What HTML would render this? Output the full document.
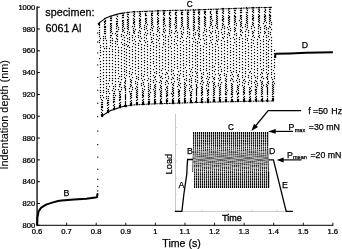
<!DOCTYPE html>
<html><head><meta charset="utf-8"><title>Indentation depth vs time</title>
<style>
html,body{margin:0;padding:0;background:#fff;}
body{width:342px;height:249px;overflow:hidden;}
svg text{font-family:"Liberation Sans",sans-serif;fill:#000;stroke:#000;stroke-width:0.25px;}
.tk{font-size:6.8px;}
.ax{font-size:10.4px;}
.sp{font-size:10.8px;}
.lb{font-size:8.8px;}
.an{font-size:8.8px;}
.sub{font-size:5.6px;}
</style></head><body>
<svg width="342" height="249" viewBox="0 0 342 249" style="display:block">
<rect width="342" height="249" fill="#fff"/>
<path d="M98.5 23.5h0M99.5 23.5h0M99.5 24.5h0M98.5 24.5h0M99.5 25.5h0M99.5 27.5h0M99.5 30.5h0M99.5 32.5h0M99.5 34.5h0M99.5 36.5h0M100.5 38.5h0M99.5 40.5h0M99.5 42.5h0M100.5 45.5h0M100.5 47.5h0M100.5 50.5h0M100.5 52.5h0M100.5 55.5h0M99.5 58.5h0M100.5 61.5h0M100.5 64.5h0M100.5 67.5h0M100.5 70.5h0M100.5 73.5h0M100.5 76.5h0M100.5 79.5h0M100.5 81.5h0M100.5 84.5h0M100.5 87.5h0M100.5 90.5h0M100.5 92.5h0M100.5 95.5h0M100.5 97.5h0M101.5 99.5h0M101.5 102.5h0M101.5 104.5h0M101.5 106.5h0M101.5 107.5h0M101.5 109.5h0M101.5 112.5h0M101.5 114.5h0M101.5 115.5h0M102.5 116.5h0M102.5 115.5h0M102.5 114.5h0M102.5 113.5h0M102.5 110.5h0M102.5 107.5h0M102.5 106.5h0M102.5 104.5h0M102.5 102.5h0M102.5 100.5h0M103.5 97.5h0M102.5 95.5h0M103.5 92.5h0M103.5 90.5h0M103.5 87.5h0M103.5 84.5h0M103.5 81.5h0M103.5 78.5h0M103.5 75.5h0M103.5 72.5h0M103.5 69.5h0M103.5 66.5h0M103.5 63.5h0M103.5 60.5h0M103.5 57.5h0M103.5 54.5h0M103.5 51.5h0M104.5 48.5h0M103.5 46.5h0M103.5 43.5h0M103.5 40.5h0M103.5 38.5h0M103.5 36.5h0M104.5 33.5h0M104.5 31.5h0M104.5 29.5h0M104.5 27.5h0M104.5 26.5h0M104.5 24.5h0M104.5 22.5h0M104.5 21.5h0M105.5 20.5h0M105.5 19.5h0M104.5 18.5h0M105.5 21.5h0M105.5 23.5h0M105.5 26.5h0M105.5 27.5h0M105.5 29.5h0M105.5 31.5h0M105.5 33.5h0M105.5 36.5h0M105.5 38.5h0M106.5 40.5h0M106.5 43.5h0M106.5 46.5h0M106.5 48.5h0M106.5 51.5h0M106.5 54.5h0M106.5 57.5h0M106.5 60.5h0M106.5 63.5h0M106.5 66.5h0M106.5 69.5h0M106.5 72.5h0M106.5 75.5h0M106.5 77.5h0M106.5 80.5h0M106.5 83.5h0M106.5 86.5h0M106.5 88.5h0M106.5 91.5h0M106.5 93.5h0M106.5 96.5h0M106.5 98.5h0M107.5 100.5h0M107.5 102.5h0M107.5 103.5h0M107.5 105.5h0M107.5 108.5h0M107.5 110.5h0M107.5 111.5h0M107.5 112.5h0M108.5 112.5h0M108.5 111.5h0M108.5 110.5h0M108.5 109.5h0M108.5 107.5h0M108.5 104.5h0M108.5 102.5h0M108.5 100.5h0M108.5 98.5h0M108.5 96.5h0M109.5 93.5h0M108.5 91.5h0M108.5 89.5h0M109.5 86.5h0M108.5 83.5h0M109.5 80.5h0M109.5 78.5h0M109.5 75.5h0M109.5 72.5h0M109.5 69.5h0M109.5 66.5h0M109.5 63.5h0M109.5 60.5h0M109.5 57.5h0M109.5 54.5h0M109.5 51.5h0M109.5 48.5h0M110.5 45.5h0M110.5 42.5h0M110.5 40.5h0M110.5 37.5h0M110.5 35.5h0M110.5 32.5h0M110.5 30.5h0M110.5 28.5h0M110.5 26.5h0M110.5 24.5h0M110.5 23.5h0M110.5 20.5h0M110.5 18.5h0M110.5 17.5h0M111.5 16.5h0M110.5 16.5h0M111.5 17.5h0M111.5 18.5h0M111.5 20.5h0M111.5 23.5h0M111.5 25.5h0M111.5 27.5h0M111.5 29.5h0M111.5 31.5h0M112.5 33.5h0M111.5 35.5h0M112.5 38.5h0M112.5 40.5h0M112.5 43.5h0M112.5 46.5h0M112.5 49.5h0M112.5 51.5h0M112.5 54.5h0M112.5 57.5h0M112.5 60.5h0M112.5 63.5h0M112.5 66.5h0M112.5 69.5h0M112.5 72.5h0M112.5 75.5h0M112.5 78.5h0M112.5 80.5h0M112.5 83.5h0M113.5 86.5h0M113.5 88.5h0M112.5 90.5h0M113.5 93.5h0M113.5 95.5h0M113.5 97.5h0M113.5 99.5h0M113.5 101.5h0M113.5 102.5h0M113.5 105.5h0M114.5 107.5h0M113.5 108.5h0M114.5 109.5h0M113.5 109.5h0M114.5 108.5h0M114.5 106.5h0M114.5 104.5h0M114.5 101.5h0M114.5 99.5h0M114.5 97.5h0M115.5 95.5h0M114.5 93.5h0M114.5 91.5h0M115.5 89.5h0M115.5 86.5h0M115.5 84.5h0M115.5 81.5h0M115.5 78.5h0M115.5 75.5h0M115.5 72.5h0M115.5 70.5h0M115.5 67.5h0M115.5 64.5h0M115.5 61.5h0M115.5 58.5h0M115.5 55.5h0M115.5 52.5h0M115.5 49.5h0M115.5 46.5h0M115.5 43.5h0M115.5 41.5h0M116.5 38.5h0M116.5 35.5h0M115.5 33.5h0M116.5 31.5h0M116.5 28.5h0M116.5 26.5h0M116.5 24.5h0M116.5 23.5h0M116.5 21.5h0M116.5 18.5h0M117.5 16.5h0M116.5 15.5h0M116.5 14.5h0M117.5 14.5h0M117.5 15.5h0M117.5 19.5h0M117.5 21.5h0M117.5 23.5h0M117.5 25.5h0M118.5 27.5h0M118.5 29.5h0M117.5 31.5h0M117.5 34.5h0M117.5 36.5h0M117.5 39.5h0M117.5 41.5h0M117.5 44.5h0M118.5 47.5h0M118.5 50.5h0M118.5 52.5h0M118.5 55.5h0M118.5 58.5h0M118.5 61.5h0M118.5 64.5h0M118.5 67.5h0M118.5 70.5h0M118.5 73.5h0M119.5 76.5h0M118.5 78.5h0M118.5 81.5h0M119.5 84.5h0M119.5 86.5h0M118.5 89.5h0M119.5 91.5h0M119.5 93.5h0M119.5 95.5h0M119.5 97.5h0M119.5 99.5h0M119.5 100.5h0M119.5 103.5h0M119.5 105.5h0M119.5 106.5h0M119.5 107.5h0M120.5 107.5h0M120.5 106.5h0M120.5 105.5h0M120.5 104.5h0M120.5 102.5h0M120.5 99.5h0M120.5 97.5h0M120.5 96.5h0M120.5 94.5h0M120.5 91.5h0M121.5 89.5h0M121.5 87.5h0M120.5 84.5h0M120.5 82.5h0M121.5 79.5h0M121.5 76.5h0M121.5 74.5h0M121.5 71.5h0M121.5 68.5h0M121.5 65.5h0M121.5 62.5h0M121.5 59.5h0M121.5 56.5h0M121.5 53.5h0M121.5 50.5h0M121.5 47.5h0M122.5 44.5h0M121.5 42.5h0M122.5 39.5h0M121.5 36.5h0M121.5 34.5h0M122.5 31.5h0M122.5 29.5h0M122.5 27.5h0M122.5 25.5h0M122.5 23.5h0M122.5 21.5h0M122.5 20.5h0M122.5 17.5h0M122.5 15.5h0M122.5 14.5h0M122.5 13.5h0M123.5 13.5h0M123.5 14.5h0M123.5 15.5h0M123.5 17.5h0M123.5 20.5h0M123.5 22.5h0M123.5 24.5h0M123.5 26.5h0M124.5 28.5h0M123.5 30.5h0M124.5 32.5h0M123.5 35.5h0M124.5 37.5h0M124.5 40.5h0M124.5 43.5h0M124.5 45.5h0M124.5 48.5h0M124.5 51.5h0M124.5 54.5h0M124.5 57.5h0M124.5 60.5h0M124.5 63.5h0M124.5 66.5h0M124.5 69.5h0M124.5 71.5h0M124.5 74.5h0M124.5 77.5h0M125.5 80.5h0M124.5 82.5h0M124.5 85.5h0M124.5 87.5h0M125.5 89.5h0M125.5 92.5h0M125.5 94.5h0M125.5 95.5h0M125.5 97.5h0M125.5 99.5h0M125.5 102.5h0M125.5 104.5h0M125.5 105.5h0M126.5 105.5h0M126.5 106.5h0M125.5 106.5h0M124.5 105.5h0M125.5 103.5h0M125.5 101.5h0M125.5 98.5h0M125.5 96.5h0M125.5 90.5h0M125.5 88.5h0M125.5 86.5h0M125.5 83.5h0M125.5 81.5h0M125.5 78.5h0M126.5 75.5h0M126.5 72.5h0M126.5 70.5h0M126.5 67.5h0M126.5 64.5h0M126.5 61.5h0M126.5 58.5h0M126.5 55.5h0M126.5 52.5h0M126.5 49.5h0M127.5 46.5h0M126.5 44.5h0M127.5 41.5h0M127.5 38.5h0M126.5 35.5h0M127.5 33.5h0M127.5 31.5h0M127.5 28.5h0M127.5 26.5h0M127.5 24.5h0M127.5 22.5h0M127.5 20.5h0M127.5 19.5h0M127.5 16.5h0M127.5 14.5h0M128.5 13.5h0M127.5 13.5h0M128.5 12.5h0M127.5 12.5h0M128.5 14.5h0M128.5 17.5h0M128.5 19.5h0M128.5 21.5h0M128.5 23.5h0M128.5 25.5h0M128.5 27.5h0M128.5 29.5h0M129.5 32.5h0M129.5 34.5h0M129.5 37.5h0M129.5 39.5h0M129.5 42.5h0M128.5 45.5h0M129.5 47.5h0M129.5 50.5h0M129.5 53.5h0M129.5 56.5h0M129.5 59.5h0M129.5 62.5h0M129.5 65.5h0M130.5 68.5h0M129.5 71.5h0M129.5 73.5h0M129.5 76.5h0M130.5 79.5h0M130.5 81.5h0M130.5 84.5h0M130.5 86.5h0M129.5 88.5h0M129.5 91.5h0M130.5 93.5h0M130.5 94.5h0M130.5 96.5h0M130.5 98.5h0M130.5 101.5h0M130.5 103.5h0M130.5 104.5h0M131.5 105.5h0M130.5 105.5h0M131.5 104.5h0M131.5 103.5h0M131.5 102.5h0M131.5 100.5h0M131.5 97.5h0M131.5 95.5h0M131.5 93.5h0M131.5 91.5h0M132.5 89.5h0M132.5 87.5h0M131.5 85.5h0M131.5 82.5h0M131.5 80.5h0M132.5 77.5h0M131.5 74.5h0M132.5 72.5h0M132.5 69.5h0M132.5 66.5h0M132.5 63.5h0M132.5 60.5h0M132.5 57.5h0M132.5 54.5h0M132.5 51.5h0M132.5 49.5h0M132.5 46.5h0M133.5 43.5h0M132.5 40.5h0M132.5 37.5h0M132.5 35.5h0M133.5 32.5h0M133.5 30.5h0M133.5 28.5h0M132.5 26.5h0M133.5 23.5h0M133.5 22.5h0M133.5 20.5h0M133.5 18.5h0M133.5 15.5h0M133.5 13.5h0M134.5 12.5h0M134.5 11.5h0M133.5 11.5h0M134.5 13.5h0M134.5 14.5h0M134.5 16.5h0M134.5 19.5h0M134.5 21.5h0M134.5 22.5h0M134.5 24.5h0M134.5 26.5h0M135.5 29.5h0M134.5 31.5h0M134.5 33.5h0M135.5 36.5h0M134.5 39.5h0M135.5 41.5h0M135.5 44.5h0M135.5 47.5h0M135.5 50.5h0M135.5 53.5h0M135.5 56.5h0M135.5 58.5h0M135.5 61.5h0M135.5 64.5h0M135.5 67.5h0M135.5 70.5h0M135.5 73.5h0M136.5 76.5h0M136.5 78.5h0M135.5 81.5h0M135.5 83.5h0M136.5 86.5h0M135.5 88.5h0M136.5 90.5h0M136.5 92.5h0M136.5 94.5h0M136.5 96.5h0M136.5 97.5h0M136.5 100.5h0M136.5 102.5h0M136.5 103.5h0M136.5 104.5h0M137.5 104.5h0M137.5 103.5h0M137.5 102.5h0M137.5 99.5h0M137.5 97.5h0M137.5 95.5h0M137.5 93.5h0M137.5 91.5h0M137.5 89.5h0M137.5 87.5h0M137.5 84.5h0M137.5 82.5h0M138.5 79.5h0M138.5 77.5h0M138.5 74.5h0M138.5 71.5h0M138.5 68.5h0M138.5 66.5h0M138.5 63.5h0M138.5 60.5h0M138.5 57.5h0M138.5 54.5h0M138.5 51.5h0M138.5 48.5h0M138.5 45.5h0M138.5 43.5h0M139.5 40.5h0M138.5 37.5h0M138.5 35.5h0M138.5 32.5h0M139.5 30.5h0M139.5 27.5h0M139.5 25.5h0M139.5 23.5h0M139.5 21.5h0M139.5 20.5h0M139.5 18.5h0M139.5 15.5h0M139.5 13.5h0M139.5 12.5h0M139.5 11.5h0M140.5 11.5h0M140.5 12.5h0M140.5 13.5h0M140.5 14.5h0M140.5 16.5h0M140.5 19.5h0M140.5 20.5h0M140.5 22.5h0M140.5 24.5h0M140.5 26.5h0M141.5 28.5h0M140.5 31.5h0M140.5 33.5h0M140.5 36.5h0M141.5 38.5h0M140.5 41.5h0M141.5 44.5h0M141.5 47.5h0M141.5 49.5h0M141.5 52.5h0M141.5 55.5h0M141.5 58.5h0M141.5 61.5h0M141.5 64.5h0M141.5 67.5h0M141.5 70.5h0M141.5 73.5h0M141.5 75.5h0M141.5 78.5h0M142.5 80.5h0M141.5 83.5h0M141.5 85.5h0M142.5 88.5h0M142.5 90.5h0M142.5 92.5h0M142.5 94.5h0M142.5 95.5h0M142.5 97.5h0M142.5 100.5h0M142.5 102.5h0M142.5 103.5h0M142.5 104.5h0M143.5 104.5h0M143.5 103.5h0M143.5 102.5h0M143.5 101.5h0M143.5 99.5h0M143.5 96.5h0M143.5 95.5h0M143.5 93.5h0M143.5 91.5h0M144.5 89.5h0M144.5 86.5h0M143.5 84.5h0M143.5 82.5h0M144.5 79.5h0M143.5 76.5h0M144.5 74.5h0M144.5 71.5h0M144.5 68.5h0M144.5 65.5h0M144.5 62.5h0M144.5 60.5h0M144.5 57.5h0M144.5 54.5h0M144.5 51.5h0M144.5 48.5h0M144.5 45.5h0M145.5 42.5h0M144.5 40.5h0M144.5 37.5h0M144.5 34.5h0M145.5 32.5h0M144.5 29.5h0M144.5 27.5h0M144.5 25.5h0M145.5 23.5h0M145.5 21.5h0M145.5 19.5h0M145.5 18.5h0M145.5 15.5h0M145.5 14.5h0M145.5 13.5h0M145.5 12.5h0M146.5 11.5h0M145.5 11.5h0M146.5 12.5h0M146.5 15.5h0M146.5 18.5h0M146.5 20.5h0M146.5 22.5h0M147.5 24.5h0M146.5 26.5h0M146.5 28.5h0M147.5 30.5h0M147.5 33.5h0M146.5 35.5h0M146.5 38.5h0M147.5 41.5h0M147.5 44.5h0M147.5 46.5h0M147.5 49.5h0M147.5 52.5h0M147.5 55.5h0M147.5 58.5h0M147.5 61.5h0M147.5 64.5h0M147.5 67.5h0M147.5 69.5h0M147.5 72.5h0M147.5 75.5h0M148.5 78.5h0M147.5 80.5h0M148.5 83.5h0M148.5 85.5h0M148.5 87.5h0M148.5 89.5h0M148.5 91.5h0M148.5 93.5h0M148.5 95.5h0M148.5 97.5h0M148.5 99.5h0M148.5 101.5h0M148.5 102.5h0M149.5 103.5h0M148.5 103.5h0M148.5 104.5h0M149.5 102.5h0M149.5 101.5h0M149.5 99.5h0M149.5 96.5h0M149.5 94.5h0M150.5 92.5h0M149.5 90.5h0M150.5 88.5h0M150.5 86.5h0M150.5 84.5h0M150.5 81.5h0M150.5 79.5h0M150.5 76.5h0M150.5 73.5h0M150.5 71.5h0M150.5 68.5h0M150.5 65.5h0M150.5 62.5h0M150.5 59.5h0M150.5 56.5h0M150.5 53.5h0M150.5 50.5h0M150.5 48.5h0M150.5 45.5h0M151.5 42.5h0M151.5 39.5h0M151.5 37.5h0M150.5 34.5h0M150.5 32.5h0M150.5 29.5h0M151.5 27.5h0M151.5 25.5h0M151.5 23.5h0M151.5 21.5h0M151.5 19.5h0M151.5 17.5h0M151.5 15.5h0M151.5 14.5h0M151.5 13.5h0M151.5 12.5h0M151.5 11.5h0M152.5 11.5h0M152.5 12.5h0M152.5 13.5h0M152.5 15.5h0M152.5 18.5h0M152.5 20.5h0M152.5 22.5h0M152.5 24.5h0M153.5 26.5h0M152.5 28.5h0M152.5 30.5h0M153.5 33.5h0M153.5 35.5h0M153.5 38.5h0M152.5 41.5h0M153.5 43.5h0M153.5 46.5h0M153.5 49.5h0M153.5 52.5h0M153.5 55.5h0M153.5 58.5h0M153.5 61.5h0M153.5 63.5h0M154.5 66.5h0M153.5 69.5h0M154.5 72.5h0M153.5 75.5h0M154.5 77.5h0M153.5 80.5h0M153.5 82.5h0M154.5 85.5h0M154.5 87.5h0M153.5 89.5h0M154.5 91.5h0M154.5 93.5h0M154.5 95.5h0M154.5 97.5h0M154.5 99.5h0M154.5 100.5h0M154.5 101.5h0M154.5 102.5h0M154.5 103.5h0M155.5 103.5h0M155.5 102.5h0M155.5 101.5h0M155.5 99.5h0M155.5 96.5h0M155.5 94.5h0M155.5 92.5h0M155.5 90.5h0M155.5 88.5h0M155.5 86.5h0M155.5 84.5h0M156.5 81.5h0M155.5 79.5h0M155.5 76.5h0M156.5 73.5h0M156.5 71.5h0M156.5 68.5h0M156.5 65.5h0M156.5 62.5h0M156.5 59.5h0M156.5 56.5h0M156.5 53.5h0M156.5 50.5h0M156.5 47.5h0M156.5 45.5h0M156.5 42.5h0M156.5 39.5h0M157.5 36.5h0M156.5 34.5h0M157.5 31.5h0M157.5 29.5h0M157.5 27.5h0M157.5 24.5h0M157.5 22.5h0M157.5 21.5h0M157.5 19.5h0M157.5 17.5h0M157.5 14.5h0M157.5 13.5h0M157.5 12.5h0M157.5 11.5h0M157.5 10.5h0M158.5 10.5h0M158.5 11.5h0M158.5 12.5h0M158.5 13.5h0M158.5 15.5h0M158.5 18.5h0M158.5 20.5h0M158.5 21.5h0M158.5 23.5h0M158.5 26.5h0M159.5 28.5h0M158.5 30.5h0M159.5 32.5h0M159.5 35.5h0M159.5 38.5h0M158.5 40.5h0M159.5 43.5h0M159.5 46.5h0M159.5 49.5h0M159.5 52.5h0M159.5 55.5h0M159.5 57.5h0M159.5 60.5h0M159.5 63.5h0M159.5 66.5h0M159.5 69.5h0M159.5 72.5h0M159.5 75.5h0M160.5 77.5h0M160.5 80.5h0M159.5 82.5h0M160.5 85.5h0M160.5 87.5h0M159.5 89.5h0M160.5 91.5h0M160.5 93.5h0M160.5 95.5h0M160.5 96.5h0M160.5 99.5h0M160.5 100.5h0M160.5 101.5h0M160.5 102.5h0M160.5 103.5h0M161.5 103.5h0M161.5 102.5h0M161.5 101.5h0M161.5 98.5h0M161.5 96.5h0M161.5 94.5h0M161.5 92.5h0M161.5 90.5h0M161.5 88.5h0M161.5 86.5h0M161.5 83.5h0M161.5 81.5h0M162.5 78.5h0M161.5 76.5h0M162.5 73.5h0M161.5 70.5h0M162.5 68.5h0M162.5 65.5h0M162.5 62.5h0M162.5 59.5h0M162.5 56.5h0M162.5 53.5h0M162.5 50.5h0M162.5 47.5h0M163.5 44.5h0M163.5 42.5h0M163.5 39.5h0M163.5 36.5h0M162.5 34.5h0M163.5 31.5h0M163.5 29.5h0M163.5 26.5h0M163.5 24.5h0M163.5 22.5h0M163.5 20.5h0M163.5 19.5h0M163.5 17.5h0M163.5 14.5h0M163.5 13.5h0M163.5 12.5h0M164.5 11.5h0M163.5 11.5h0M164.5 10.5h0M163.5 10.5h0M164.5 12.5h0M164.5 13.5h0M164.5 15.5h0M164.5 18.5h0M164.5 19.5h0M164.5 21.5h0M164.5 23.5h0M165.5 25.5h0M164.5 28.5h0M165.5 30.5h0M164.5 32.5h0M165.5 35.5h0M165.5 37.5h0M165.5 40.5h0M165.5 43.5h0M165.5 46.5h0M165.5 49.5h0M165.5 51.5h0M165.5 54.5h0M165.5 57.5h0M165.5 60.5h0M165.5 63.5h0M165.5 66.5h0M165.5 69.5h0M166.5 72.5h0M165.5 74.5h0M165.5 77.5h0M166.5 80.5h0M165.5 82.5h0M165.5 84.5h0M166.5 87.5h0M165.5 89.5h0M166.5 91.5h0M166.5 93.5h0M166.5 95.5h0M166.5 96.5h0M166.5 99.5h0M166.5 100.5h0M166.5 101.5h0M166.5 102.5h0M166.5 103.5h0M167.5 103.5h0M167.5 101.5h0M167.5 100.5h0M167.5 98.5h0M167.5 95.5h0M167.5 94.5h0M167.5 92.5h0M167.5 90.5h0M167.5 88.5h0M167.5 86.5h0M168.5 83.5h0M167.5 81.5h0M168.5 78.5h0M168.5 76.5h0M167.5 73.5h0M168.5 70.5h0M168.5 67.5h0M168.5 64.5h0M168.5 62.5h0M168.5 59.5h0M168.5 56.5h0M168.5 53.5h0M168.5 50.5h0M168.5 47.5h0M168.5 44.5h0M168.5 41.5h0M168.5 39.5h0M168.5 36.5h0M169.5 33.5h0M169.5 31.5h0M169.5 29.5h0M169.5 26.5h0M169.5 24.5h0M169.5 22.5h0M169.5 20.5h0M169.5 18.5h0M169.5 17.5h0M169.5 14.5h0M169.5 13.5h0M169.5 12.5h0M169.5 11.5h0M170.5 10.5h0M169.5 10.5h0M170.5 11.5h0M170.5 12.5h0M170.5 15.5h0M170.5 18.5h0M170.5 19.5h0M170.5 21.5h0M170.5 23.5h0M170.5 25.5h0M170.5 27.5h0M171.5 30.5h0M171.5 32.5h0M170.5 35.5h0M171.5 37.5h0M171.5 40.5h0M171.5 43.5h0M170.5 46.5h0M171.5 48.5h0M171.5 51.5h0M171.5 54.5h0M171.5 57.5h0M171.5 60.5h0M171.5 63.5h0M171.5 66.5h0M171.5 69.5h0M171.5 71.5h0M171.5 74.5h0M172.5 77.5h0M171.5 79.5h0M171.5 82.5h0M172.5 84.5h0M172.5 87.5h0M172.5 89.5h0M172.5 91.5h0M171.5 93.5h0M172.5 94.5h0M172.5 96.5h0M172.5 99.5h0M172.5 100.5h0M172.5 101.5h0M172.5 102.5h0M173.5 102.5h0M172.5 103.5h0M173.5 103.5h0M173.5 101.5h0M173.5 100.5h0M173.5 98.5h0M173.5 95.5h0M173.5 93.5h0M173.5 92.5h0M173.5 90.5h0M173.5 88.5h0M173.5 85.5h0M173.5 83.5h0M174.5 81.5h0M173.5 78.5h0M174.5 75.5h0M173.5 73.5h0M173.5 70.5h0M174.5 67.5h0M174.5 64.5h0M174.5 61.5h0M174.5 58.5h0M174.5 56.5h0M174.5 53.5h0M174.5 50.5h0M174.5 47.5h0M174.5 44.5h0M174.5 41.5h0M174.5 39.5h0M175.5 36.5h0M174.5 33.5h0M175.5 31.5h0M175.5 28.5h0M175.5 26.5h0M174.5 24.5h0M175.5 22.5h0M175.5 20.5h0M175.5 18.5h0M175.5 17.5h0M175.5 14.5h0M175.5 13.5h0M175.5 12.5h0M176.5 11.5h0M175.5 10.5h0M176.5 10.5h0M175.5 11.5h0M176.5 12.5h0M176.5 15.5h0M176.5 17.5h0M176.5 19.5h0M176.5 21.5h0M176.5 23.5h0M176.5 25.5h0M176.5 27.5h0M176.5 30.5h0M177.5 32.5h0M177.5 35.5h0M177.5 37.5h0M177.5 40.5h0M176.5 43.5h0M177.5 45.5h0M177.5 48.5h0M177.5 51.5h0M177.5 54.5h0M177.5 57.5h0M177.5 60.5h0M177.5 63.5h0M177.5 66.5h0M177.5 68.5h0M178.5 71.5h0M177.5 74.5h0M177.5 77.5h0M177.5 79.5h0M178.5 82.5h0M178.5 84.5h0M177.5 86.5h0M178.5 89.5h0M178.5 91.5h0M178.5 92.5h0M178.5 94.5h0M178.5 96.5h0M178.5 99.5h0M178.5 100.5h0M178.5 101.5h0M179.5 101.5h0M178.5 102.5h0M179.5 103.5h0M179.5 102.5h0M179.5 100.5h0M179.5 98.5h0M179.5 95.5h0M179.5 93.5h0M179.5 91.5h0M179.5 90.5h0M180.5 87.5h0M179.5 85.5h0M180.5 83.5h0M179.5 80.5h0M179.5 78.5h0M179.5 75.5h0M180.5 73.5h0M180.5 70.5h0M180.5 67.5h0M180.5 64.5h0M180.5 61.5h0M180.5 58.5h0M180.5 55.5h0M180.5 53.5h0M180.5 50.5h0M180.5 47.5h0M180.5 44.5h0M180.5 41.5h0M180.5 38.5h0M181.5 36.5h0M181.5 33.5h0M181.5 31.5h0M180.5 28.5h0M181.5 26.5h0M181.5 24.5h0M181.5 22.5h0M181.5 20.5h0M181.5 18.5h0M181.5 17.5h0M181.5 14.5h0M181.5 13.5h0M181.5 12.5h0M181.5 11.5h0M182.5 10.5h0M181.5 10.5h0M182.5 11.5h0M182.5 12.5h0M182.5 14.5h0M182.5 17.5h0M182.5 19.5h0M182.5 21.5h0M182.5 23.5h0M182.5 25.5h0M183.5 27.5h0M183.5 29.5h0M183.5 32.5h0M182.5 34.5h0M182.5 37.5h0M183.5 40.5h0M182.5 42.5h0M183.5 45.5h0M183.5 48.5h0M183.5 51.5h0M183.5 54.5h0M183.5 57.5h0M183.5 60.5h0M183.5 63.5h0M183.5 65.5h0M183.5 68.5h0M183.5 71.5h0M183.5 74.5h0M183.5 76.5h0M184.5 79.5h0M184.5 82.5h0M184.5 84.5h0M184.5 86.5h0M184.5 88.5h0M184.5 90.5h0M184.5 92.5h0M184.5 94.5h0M184.5 96.5h0M184.5 98.5h0M184.5 99.5h0M184.5 100.5h0M184.5 101.5h0M184.5 102.5h0M185.5 102.5h0M185.5 101.5h0M185.5 100.5h0M185.5 98.5h0M185.5 95.5h0M185.5 93.5h0M185.5 91.5h0M185.5 89.5h0M185.5 87.5h0M186.5 85.5h0M185.5 83.5h0M186.5 80.5h0M186.5 78.5h0M186.5 75.5h0M186.5 72.5h0M186.5 70.5h0M185.5 67.5h0M186.5 64.5h0M186.5 61.5h0M186.5 58.5h0M186.5 55.5h0M186.5 52.5h0M186.5 49.5h0M186.5 47.5h0M186.5 44.5h0M186.5 41.5h0M186.5 38.5h0M187.5 36.5h0M187.5 33.5h0M187.5 31.5h0M187.5 28.5h0M187.5 26.5h0M187.5 24.5h0M187.5 22.5h0M187.5 20.5h0M187.5 18.5h0M187.5 16.5h0M187.5 14.5h0M187.5 13.5h0M187.5 12.5h0M187.5 11.5h0M187.5 10.5h0M188.5 10.5h0M188.5 11.5h0M188.5 12.5h0M188.5 14.5h0M188.5 17.5h0M188.5 19.5h0M188.5 21.5h0M188.5 23.5h0M188.5 25.5h0M188.5 27.5h0M189.5 29.5h0M189.5 32.5h0M189.5 34.5h0M189.5 37.5h0M189.5 40.5h0M189.5 42.5h0M189.5 45.5h0M189.5 48.5h0M189.5 51.5h0M189.5 54.5h0M189.5 57.5h0M189.5 60.5h0M189.5 62.5h0M189.5 65.5h0M189.5 68.5h0M190.5 71.5h0M189.5 74.5h0M190.5 76.5h0M189.5 79.5h0M189.5 81.5h0M189.5 84.5h0M190.5 86.5h0M189.5 88.5h0M189.5 90.5h0M190.5 92.5h0M190.5 94.5h0M190.5 95.5h0M190.5 98.5h0M190.5 99.5h0M190.5 100.5h0M190.5 101.5h0M190.5 102.5h0M191.5 102.5h0M191.5 101.5h0M191.5 100.5h0M191.5 97.5h0M191.5 95.5h0M191.5 93.5h0M191.5 91.5h0M192.5 89.5h0M191.5 87.5h0M191.5 85.5h0M191.5 82.5h0M191.5 80.5h0M191.5 78.5h0M192.5 75.5h0M192.5 72.5h0M191.5 69.5h0M192.5 67.5h0M192.5 64.5h0M192.5 61.5h0M192.5 58.5h0M192.5 55.5h0M192.5 52.5h0M192.5 49.5h0M192.5 46.5h0M192.5 44.5h0M193.5 41.5h0M192.5 38.5h0M193.5 35.5h0M193.5 33.5h0M193.5 30.5h0M193.5 28.5h0M193.5 26.5h0M193.5 24.5h0M193.5 22.5h0M193.5 20.5h0M193.5 18.5h0M193.5 16.5h0M193.5 14.5h0M193.5 12.5h0M193.5 11.5h0M193.5 10.5h0M194.5 10.5h0M193.5 9.5h0M194.5 11.5h0M194.5 12.5h0M194.5 14.5h0M194.5 17.5h0M194.5 19.5h0M194.5 21.5h0M194.5 22.5h0M194.5 25.5h0M194.5 27.5h0M194.5 29.5h0M195.5 32.5h0M195.5 34.5h0M194.5 37.5h0M195.5 39.5h0M195.5 42.5h0M195.5 45.5h0M195.5 48.5h0M195.5 51.5h0M195.5 54.5h0M195.5 56.5h0M195.5 59.5h0M195.5 62.5h0M195.5 65.5h0M195.5 68.5h0M195.5 71.5h0M196.5 73.5h0M195.5 76.5h0M195.5 79.5h0M195.5 81.5h0M196.5 84.5h0M196.5 86.5h0M196.5 88.5h0M196.5 90.5h0M196.5 92.5h0M196.5 94.5h0M196.5 95.5h0M196.5 98.5h0M196.5 99.5h0M196.5 100.5h0M196.5 101.5h0M196.5 102.5h0M195.5 101.5h0M196.5 97.5h0M196.5 93.5h0M196.5 91.5h0M196.5 89.5h0M197.5 87.5h0M196.5 85.5h0M197.5 82.5h0M197.5 80.5h0M197.5 77.5h0M197.5 75.5h0M197.5 72.5h0M197.5 69.5h0M197.5 66.5h0M197.5 64.5h0M197.5 61.5h0M197.5 58.5h0M197.5 55.5h0M197.5 52.5h0M197.5 49.5h0M197.5 46.5h0M197.5 43.5h0M197.5 41.5h0M198.5 38.5h0M198.5 35.5h0M198.5 33.5h0M197.5 30.5h0M198.5 28.5h0M198.5 26.5h0M198.5 23.5h0M198.5 21.5h0M198.5 19.5h0M198.5 18.5h0M198.5 16.5h0M198.5 13.5h0M198.5 12.5h0M199.5 11.5h0M198.5 11.5h0M198.5 10.5h0M198.5 9.5h0M199.5 9.5h0M199.5 10.5h0M199.5 12.5h0M199.5 14.5h0M199.5 17.5h0M199.5 18.5h0M199.5 20.5h0M199.5 22.5h0M199.5 24.5h0M199.5 27.5h0M199.5 29.5h0M199.5 31.5h0M199.5 34.5h0M199.5 36.5h0M200.5 39.5h0M199.5 42.5h0M200.5 45.5h0M200.5 48.5h0M200.5 50.5h0M200.5 53.5h0M200.5 56.5h0M200.5 59.5h0M200.5 62.5h0M200.5 65.5h0M200.5 68.5h0M200.5 70.5h0M201.5 73.5h0M201.5 76.5h0M201.5 78.5h0M201.5 81.5h0M200.5 83.5h0M201.5 86.5h0M201.5 88.5h0M201.5 90.5h0M201.5 92.5h0M201.5 93.5h0M201.5 95.5h0M201.5 98.5h0M201.5 99.5h0M201.5 100.5h0M202.5 101.5h0M201.5 101.5h0M201.5 102.5h0M202.5 102.5h0M202.5 99.5h0M202.5 97.5h0M202.5 94.5h0M202.5 92.5h0M202.5 91.5h0M202.5 89.5h0M202.5 87.5h0M202.5 84.5h0M203.5 82.5h0M202.5 80.5h0M202.5 77.5h0M203.5 74.5h0M203.5 72.5h0M203.5 69.5h0M203.5 66.5h0M203.5 63.5h0M203.5 60.5h0M203.5 58.5h0M203.5 55.5h0M203.5 52.5h0M203.5 49.5h0M203.5 46.5h0M204.5 43.5h0M204.5 40.5h0M203.5 38.5h0M203.5 35.5h0M203.5 32.5h0M204.5 30.5h0M204.5 28.5h0M204.5 25.5h0M204.5 23.5h0M204.5 21.5h0M204.5 19.5h0M204.5 17.5h0M204.5 16.5h0M204.5 13.5h0M204.5 12.5h0M204.5 11.5h0M204.5 10.5h0M205.5 10.5h0M204.5 9.5h0M205.5 9.5h0M205.5 11.5h0M205.5 12.5h0M205.5 14.5h0M205.5 17.5h0M205.5 18.5h0M205.5 20.5h0M205.5 22.5h0M205.5 24.5h0M205.5 26.5h0M206.5 29.5h0M206.5 31.5h0M205.5 34.5h0M206.5 36.5h0M206.5 39.5h0M206.5 42.5h0M206.5 44.5h0M206.5 47.5h0M206.5 50.5h0M206.5 53.5h0M206.5 56.5h0M206.5 59.5h0M206.5 62.5h0M206.5 65.5h0M206.5 68.5h0M206.5 70.5h0M207.5 73.5h0M207.5 76.5h0M206.5 78.5h0M207.5 81.5h0M207.5 83.5h0M206.5 85.5h0M206.5 88.5h0M207.5 90.5h0M207.5 91.5h0M207.5 93.5h0M207.5 95.5h0M207.5 98.5h0M207.5 99.5h0M207.5 100.5h0M208.5 101.5h0M207.5 101.5h0M207.5 102.5h0M208.5 102.5h0M208.5 100.5h0M208.5 99.5h0M208.5 97.5h0M208.5 94.5h0M208.5 92.5h0M208.5 90.5h0M208.5 89.5h0M208.5 86.5h0M208.5 84.5h0M209.5 82.5h0M208.5 79.5h0M209.5 77.5h0M209.5 74.5h0M209.5 72.5h0M209.5 69.5h0M209.5 66.5h0M209.5 63.5h0M209.5 60.5h0M209.5 57.5h0M209.5 54.5h0M209.5 52.5h0M209.5 49.5h0M209.5 46.5h0M209.5 43.5h0M210.5 40.5h0M210.5 37.5h0M209.5 35.5h0M210.5 32.5h0M209.5 30.5h0M209.5 27.5h0M210.5 25.5h0M210.5 23.5h0M210.5 21.5h0M210.5 19.5h0M210.5 17.5h0M210.5 16.5h0M210.5 13.5h0M210.5 12.5h0M210.5 11.5h0M211.5 10.5h0M211.5 9.5h0M210.5 9.5h0M211.5 14.5h0M211.5 16.5h0M211.5 18.5h0M212.5 20.5h0M211.5 22.5h0M211.5 24.5h0M212.5 26.5h0M212.5 28.5h0M212.5 31.5h0M211.5 33.5h0M212.5 36.5h0M212.5 39.5h0M211.5 42.5h0M212.5 44.5h0M212.5 47.5h0M212.5 50.5h0M212.5 53.5h0M212.5 56.5h0M212.5 59.5h0M212.5 62.5h0M212.5 65.5h0M212.5 67.5h0M212.5 70.5h0M212.5 73.5h0M212.5 76.5h0M213.5 78.5h0M212.5 81.5h0M213.5 83.5h0M213.5 85.5h0M213.5 87.5h0M213.5 89.5h0M213.5 91.5h0M213.5 93.5h0M213.5 95.5h0M213.5 97.5h0M213.5 99.5h0M213.5 100.5h0M214.5 101.5h0M213.5 101.5h0M214.5 100.5h0M214.5 99.5h0M214.5 97.5h0M214.5 94.5h0M214.5 92.5h0M214.5 90.5h0M214.5 88.5h0M215.5 86.5h0M214.5 84.5h0M214.5 82.5h0M214.5 79.5h0M214.5 77.5h0M215.5 74.5h0M214.5 71.5h0M215.5 69.5h0M214.5 66.5h0M215.5 63.5h0M215.5 60.5h0M215.5 57.5h0M215.5 54.5h0M215.5 51.5h0M215.5 49.5h0M215.5 46.5h0M215.5 43.5h0M216.5 40.5h0M216.5 37.5h0M216.5 35.5h0M215.5 32.5h0M215.5 30.5h0M216.5 27.5h0M215.5 25.5h0M216.5 23.5h0M216.5 21.5h0M216.5 19.5h0M216.5 17.5h0M216.5 15.5h0M216.5 13.5h0M216.5 12.5h0M216.5 11.5h0M217.5 10.5h0M216.5 9.5h0M217.5 9.5h0M216.5 10.5h0M217.5 11.5h0M217.5 13.5h0M217.5 16.5h0M217.5 18.5h0M217.5 20.5h0M217.5 22.5h0M217.5 24.5h0M217.5 26.5h0M217.5 28.5h0M218.5 31.5h0M218.5 33.5h0M218.5 36.5h0M218.5 39.5h0M217.5 41.5h0M217.5 44.5h0M218.5 47.5h0M218.5 50.5h0M218.5 53.5h0M218.5 56.5h0M218.5 59.5h0M218.5 62.5h0M218.5 64.5h0M218.5 67.5h0M218.5 70.5h0M218.5 73.5h0M219.5 75.5h0M218.5 78.5h0M219.5 80.5h0M218.5 83.5h0M218.5 85.5h0M219.5 87.5h0M219.5 89.5h0M219.5 91.5h0M219.5 93.5h0M219.5 95.5h0M219.5 97.5h0M219.5 98.5h0M219.5 99.5h0M219.5 100.5h0M219.5 101.5h0M220.5 101.5h0M220.5 100.5h0M220.5 99.5h0M220.5 97.5h0M220.5 94.5h0M220.5 92.5h0M220.5 90.5h0M220.5 88.5h0M220.5 86.5h0M220.5 84.5h0M221.5 82.5h0M220.5 79.5h0M220.5 77.5h0M220.5 74.5h0M221.5 71.5h0M221.5 69.5h0M220.5 66.5h0M221.5 63.5h0M221.5 60.5h0M221.5 57.5h0M221.5 54.5h0M221.5 51.5h0M221.5 48.5h0M221.5 45.5h0M221.5 43.5h0M221.5 40.5h0M222.5 37.5h0M222.5 34.5h0M221.5 32.5h0M221.5 29.5h0M222.5 27.5h0M222.5 25.5h0M222.5 23.5h0M222.5 20.5h0M222.5 19.5h0M222.5 17.5h0M222.5 15.5h0M222.5 12.5h0M222.5 10.5h0M223.5 9.5h0M222.5 9.5h0M223.5 8.5h0M222.5 8.5h0M223.5 10.5h0M223.5 11.5h0M223.5 13.5h0M223.5 16.5h0M223.5 18.5h0M223.5 19.5h0M223.5 21.5h0M223.5 24.5h0M224.5 26.5h0M224.5 28.5h0M224.5 31.5h0M224.5 33.5h0M224.5 36.5h0M223.5 38.5h0M224.5 41.5h0M224.5 44.5h0M224.5 47.5h0M224.5 50.5h0M224.5 53.5h0M224.5 56.5h0M224.5 58.5h0M224.5 61.5h0M224.5 64.5h0M224.5 67.5h0M224.5 70.5h0M224.5 73.5h0M224.5 75.5h0M225.5 78.5h0M225.5 80.5h0M225.5 83.5h0M225.5 85.5h0M225.5 87.5h0M225.5 89.5h0M225.5 91.5h0M225.5 93.5h0M225.5 94.5h0M225.5 97.5h0M225.5 99.5h0M225.5 100.5h0M225.5 101.5h0M226.5 101.5h0M226.5 100.5h0M226.5 99.5h0M226.5 97.5h0M226.5 94.5h0M226.5 92.5h0M227.5 90.5h0M226.5 88.5h0M226.5 86.5h0M226.5 84.5h0M226.5 81.5h0M226.5 79.5h0M226.5 76.5h0M226.5 74.5h0M227.5 71.5h0M227.5 68.5h0M227.5 66.5h0M227.5 63.5h0M227.5 60.5h0M227.5 57.5h0M227.5 54.5h0M227.5 51.5h0M227.5 48.5h0M227.5 45.5h0M227.5 42.5h0M227.5 40.5h0M227.5 37.5h0M227.5 34.5h0M228.5 32.5h0M228.5 29.5h0M227.5 27.5h0M228.5 24.5h0M228.5 22.5h0M228.5 20.5h0M228.5 18.5h0M228.5 17.5h0M228.5 15.5h0M228.5 12.5h0M228.5 10.5h0M228.5 9.5h0M228.5 8.5h0M229.5 8.5h0M229.5 9.5h0M229.5 11.5h0M229.5 13.5h0M229.5 16.5h0M229.5 17.5h0M229.5 19.5h0M229.5 21.5h0M229.5 23.5h0M229.5 26.5h0M230.5 28.5h0M230.5 30.5h0M229.5 33.5h0M229.5 35.5h0M230.5 38.5h0M230.5 41.5h0M230.5 44.5h0M230.5 47.5h0M230.5 50.5h0M230.5 52.5h0M230.5 55.5h0M230.5 58.5h0M230.5 61.5h0M230.5 64.5h0M230.5 67.5h0M230.5 70.5h0M231.5 72.5h0M230.5 75.5h0M231.5 78.5h0M230.5 80.5h0M231.5 83.5h0M231.5 85.5h0M231.5 87.5h0M231.5 89.5h0M231.5 91.5h0M231.5 93.5h0M231.5 94.5h0M231.5 97.5h0M231.5 99.5h0M231.5 100.5h0M231.5 101.5h0M232.5 101.5h0M232.5 100.5h0M232.5 99.5h0M232.5 96.5h0M232.5 94.5h0M232.5 92.5h0M232.5 90.5h0M232.5 88.5h0M232.5 86.5h0M232.5 84.5h0M233.5 81.5h0M232.5 79.5h0M233.5 76.5h0M232.5 74.5h0M233.5 71.5h0M233.5 68.5h0M233.5 65.5h0M233.5 63.5h0M233.5 60.5h0M233.5 57.5h0M233.5 54.5h0M233.5 51.5h0M233.5 48.5h0M233.5 45.5h0M234.5 42.5h0M234.5 39.5h0M233.5 37.5h0M234.5 34.5h0M234.5 31.5h0M234.5 29.5h0M234.5 27.5h0M234.5 24.5h0M234.5 22.5h0M234.5 20.5h0M234.5 18.5h0M234.5 16.5h0M234.5 15.5h0M234.5 12.5h0M234.5 10.5h0M234.5 9.5h0M234.5 8.5h0M235.5 8.5h0M235.5 9.5h0M235.5 10.5h0M235.5 13.5h0M235.5 16.5h0M235.5 17.5h0M235.5 19.5h0M235.5 21.5h0M236.5 23.5h0M236.5 25.5h0M235.5 28.5h0M235.5 30.5h0M236.5 33.5h0M236.5 35.5h0M236.5 38.5h0M236.5 41.5h0M236.5 44.5h0M236.5 46.5h0M236.5 49.5h0M236.5 52.5h0M236.5 55.5h0M236.5 58.5h0M236.5 61.5h0M236.5 64.5h0M236.5 67.5h0M236.5 70.5h0M236.5 72.5h0M237.5 75.5h0M237.5 78.5h0M236.5 80.5h0M237.5 82.5h0M237.5 85.5h0M237.5 87.5h0M237.5 89.5h0M236.5 91.5h0M237.5 93.5h0M237.5 94.5h0M237.5 97.5h0M237.5 99.5h0M237.5 100.5h0M237.5 101.5h0M238.5 101.5h0M238.5 100.5h0M238.5 99.5h0M238.5 96.5h0M238.5 93.5h0M238.5 92.5h0M238.5 90.5h0M238.5 88.5h0M238.5 86.5h0M239.5 84.5h0M239.5 81.5h0M239.5 79.5h0M238.5 76.5h0M238.5 74.5h0M239.5 71.5h0M239.5 68.5h0M239.5 65.5h0M239.5 62.5h0M239.5 59.5h0M239.5 57.5h0M239.5 54.5h0M239.5 51.5h0M239.5 48.5h0M239.5 45.5h0M239.5 42.5h0M239.5 39.5h0M239.5 37.5h0M240.5 34.5h0M240.5 31.5h0M240.5 29.5h0M240.5 26.5h0M240.5 24.5h0M240.5 22.5h0M239.5 20.5h0M240.5 18.5h0M240.5 16.5h0M240.5 15.5h0M240.5 12.5h0M240.5 10.5h0M240.5 9.5h0M240.5 8.5h0M241.5 8.5h0M241.5 9.5h0M241.5 10.5h0M241.5 12.5h0M241.5 15.5h0M241.5 17.5h0M241.5 19.5h0M241.5 21.5h0M241.5 23.5h0M241.5 25.5h0M242.5 27.5h0M241.5 30.5h0M242.5 32.5h0M241.5 35.5h0M242.5 38.5h0M242.5 41.5h0M242.5 43.5h0M242.5 46.5h0M242.5 49.5h0M242.5 52.5h0M242.5 55.5h0M242.5 58.5h0M242.5 61.5h0M242.5 64.5h0M242.5 67.5h0M242.5 69.5h0M242.5 72.5h0M242.5 75.5h0M242.5 77.5h0M243.5 80.5h0M242.5 82.5h0M242.5 85.5h0M243.5 87.5h0M243.5 89.5h0M243.5 91.5h0M243.5 92.5h0M243.5 94.5h0M243.5 97.5h0M243.5 99.5h0M243.5 100.5h0M244.5 101.5h0M243.5 101.5h0M244.5 100.5h0M244.5 99.5h0M244.5 98.5h0M244.5 96.5h0M244.5 93.5h0M244.5 92.5h0M244.5 90.5h0M244.5 88.5h0M244.5 86.5h0M244.5 83.5h0M245.5 81.5h0M244.5 79.5h0M245.5 76.5h0M245.5 73.5h0M245.5 71.5h0M245.5 68.5h0M245.5 65.5h0M245.5 62.5h0M245.5 59.5h0M245.5 56.5h0M245.5 53.5h0M245.5 51.5h0M245.5 48.5h0M245.5 45.5h0M245.5 42.5h0M245.5 39.5h0M245.5 36.5h0M245.5 34.5h0M245.5 31.5h0M246.5 29.5h0M245.5 26.5h0M245.5 24.5h0M246.5 22.5h0M246.5 20.5h0M246.5 18.5h0M246.5 16.5h0M246.5 14.5h0M246.5 12.5h0M247.5 10.5h0M246.5 9.5h0M247.5 8.5h0M246.5 8.5h0M246.5 7.5h0M247.5 9.5h0M247.5 12.5h0M247.5 15.5h0M247.5 17.5h0M247.5 19.5h0M247.5 21.5h0M247.5 23.5h0M247.5 25.5h0M247.5 27.5h0M248.5 30.5h0M248.5 32.5h0M248.5 35.5h0M247.5 38.5h0M247.5 40.5h0M248.5 43.5h0M248.5 46.5h0M248.5 49.5h0M248.5 52.5h0M248.5 55.5h0M248.5 58.5h0M248.5 61.5h0M248.5 64.5h0M248.5 66.5h0M248.5 69.5h0M249.5 72.5h0M248.5 75.5h0M248.5 77.5h0M249.5 80.5h0M248.5 82.5h0M248.5 84.5h0M249.5 87.5h0M249.5 89.5h0M249.5 91.5h0M249.5 92.5h0M249.5 94.5h0M249.5 97.5h0M249.5 99.5h0M249.5 100.5h0M250.5 101.5h0M249.5 101.5h0M250.5 100.5h0M250.5 99.5h0M250.5 98.5h0M250.5 96.5h0M250.5 93.5h0M250.5 91.5h0M251.5 90.5h0M250.5 88.5h0M251.5 86.5h0M251.5 83.5h0M251.5 81.5h0M251.5 78.5h0M251.5 76.5h0M251.5 73.5h0M250.5 71.5h0M251.5 68.5h0M251.5 65.5h0M251.5 62.5h0M251.5 59.5h0M251.5 56.5h0M251.5 53.5h0M251.5 50.5h0M251.5 47.5h0M251.5 45.5h0M251.5 42.5h0M251.5 39.5h0M252.5 36.5h0M252.5 33.5h0M252.5 31.5h0M251.5 28.5h0M251.5 26.5h0M252.5 24.5h0M252.5 22.5h0M252.5 19.5h0M252.5 18.5h0M252.5 16.5h0M252.5 14.5h0M252.5 11.5h0M252.5 9.5h0M252.5 8.5h0M253.5 7.5h0M252.5 7.5h0M253.5 8.5h0M253.5 9.5h0M253.5 10.5h0M253.5 12.5h0M253.5 15.5h0M253.5 17.5h0M253.5 18.5h0M253.5 20.5h0M253.5 23.5h0M253.5 25.5h0M254.5 27.5h0M254.5 30.5h0M253.5 32.5h0M253.5 35.5h0M254.5 37.5h0M253.5 40.5h0M253.5 43.5h0M254.5 46.5h0M254.5 49.5h0M254.5 52.5h0M254.5 55.5h0M254.5 58.5h0M254.5 61.5h0M254.5 63.5h0M254.5 66.5h0M254.5 69.5h0M254.5 72.5h0M254.5 75.5h0M255.5 77.5h0M255.5 80.5h0M254.5 82.5h0M255.5 84.5h0M255.5 86.5h0M255.5 89.5h0M255.5 90.5h0M255.5 92.5h0M255.5 94.5h0M255.5 97.5h0M255.5 99.5h0M256.5 100.5h0M255.5 100.5h0M256.5 101.5h0M256.5 99.5h0M256.5 98.5h0M256.5 96.5h0M256.5 93.5h0M256.5 91.5h0M256.5 89.5h0M256.5 87.5h0M257.5 85.5h0M257.5 83.5h0M256.5 81.5h0M257.5 78.5h0M257.5 76.5h0M257.5 73.5h0M257.5 70.5h0M257.5 68.5h0M257.5 65.5h0M257.5 62.5h0M257.5 59.5h0M257.5 56.5h0M257.5 53.5h0M257.5 50.5h0M257.5 47.5h0M257.5 44.5h0M257.5 42.5h0M257.5 39.5h0M258.5 36.5h0M258.5 33.5h0M258.5 31.5h0M258.5 28.5h0M258.5 26.5h0M258.5 24.5h0M258.5 21.5h0M258.5 19.5h0M258.5 17.5h0M258.5 16.5h0M258.5 14.5h0M258.5 11.5h0M258.5 9.5h0M259.5 8.5h0M258.5 8.5h0M258.5 7.5h0M259.5 7.5h0M259.5 9.5h0M259.5 10.5h0M259.5 12.5h0M259.5 15.5h0M259.5 16.5h0M259.5 18.5h0M259.5 20.5h0M259.5 22.5h0M259.5 25.5h0M260.5 27.5h0M260.5 29.5h0M260.5 32.5h0M259.5 35.5h0M259.5 37.5h0M260.5 40.5h0M260.5 43.5h0M260.5 46.5h0M260.5 49.5h0M260.5 52.5h0M260.5 55.5h0M260.5 58.5h0M260.5 60.5h0M260.5 63.5h0M260.5 66.5h0M261.5 69.5h0M261.5 72.5h0M260.5 74.5h0M261.5 77.5h0M260.5 80.5h0M261.5 82.5h0M261.5 84.5h0M261.5 86.5h0M261.5 88.5h0M261.5 90.5h0M261.5 92.5h0M261.5 94.5h0M261.5 96.5h0M261.5 99.5h0M262.5 99.5h0M261.5 100.5h0M262.5 101.5h0M262.5 100.5h0M262.5 98.5h0M262.5 96.5h0M262.5 93.5h0M262.5 91.5h0M262.5 89.5h0M262.5 87.5h0M263.5 85.5h0M262.5 83.5h0M262.5 81.5h0M263.5 78.5h0M262.5 76.5h0M262.5 73.5h0M263.5 70.5h0M263.5 68.5h0M263.5 65.5h0M263.5 62.5h0M263.5 59.5h0M263.5 56.5h0M263.5 53.5h0M263.5 50.5h0M263.5 47.5h0M263.5 44.5h0M263.5 41.5h0M263.5 39.5h0M263.5 36.5h0M264.5 33.5h0M264.5 31.5h0M264.5 28.5h0M264.5 26.5h0M263.5 23.5h0M264.5 21.5h0M264.5 19.5h0M264.5 17.5h0M264.5 16.5h0M264.5 14.5h0M264.5 11.5h0M265.5 9.5h0M264.5 8.5h0M265.5 8.5h0M264.5 7.5h0M265.5 7.5h0M265.5 10.5h0M265.5 12.5h0M265.5 15.5h0M265.5 16.5h0M265.5 18.5h0M265.5 20.5h0M266.5 22.5h0M265.5 25.5h0M266.5 27.5h0M266.5 29.5h0M265.5 32.5h0M266.5 35.5h0M266.5 37.5h0M266.5 40.5h0M266.5 43.5h0M266.5 46.5h0M266.5 49.5h0M266.5 52.5h0M266.5 54.5h0M266.5 57.5h0M266.5 60.5h0M266.5 63.5h0M266.5 66.5h0M266.5 69.5h0M266.5 72.5h0M267.5 74.5h0M266.5 77.5h0M267.5 79.5h0M267.5 82.5h0M266.5 84.5h0M266.5 86.5h0M267.5 88.5h0M267.5 90.5h0M267.5 92.5h0M267.5 94.5h0M267.5 96.5h0M267.5 98.5h0M267.5 99.5h0M267.5 100.5h0M267.5 101.5h0M266.5 100.5h0M267.5 93.5h0M267.5 91.5h0M267.5 89.5h0M267.5 87.5h0M267.5 85.5h0M268.5 83.5h0M268.5 81.5h0M267.5 78.5h0M267.5 76.5h0M268.5 73.5h0M268.5 70.5h0M268.5 67.5h0M268.5 65.5h0M268.5 62.5h0M268.5 59.5h0M268.5 56.5h0M268.5 53.5h0M268.5 50.5h0M268.5 47.5h0M268.5 44.5h0M268.5 41.5h0M269.5 39.5h0M268.5 36.5h0M268.5 33.5h0M268.5 31.5h0M268.5 28.5h0M269.5 26.5h0M269.5 23.5h0M269.5 21.5h0M269.5 19.5h0M269.5 17.5h0M269.5 15.5h0M269.5 14.5h0M269.5 11.5h0M269.5 9.5h0M270.5 8.5h0M269.5 8.5h0M269.5 7.5h0M270.5 7.5h0M270.5 9.5h0M270.5 12.5h0M270.5 15.5h0M270.5 16.5h0M270.5 18.5h0M270.5 20.5h0M271.5 22.5h0M271.5 24.5h0M270.5 27.5h0M271.5 29.5h0M270.5 32.5h0M270.5 34.5h0M271.5 37.5h0M271.5 40.5h0M271.5 43.5h0M271.5 46.5h0M271.5 49.5h0M271.5 51.5h0M271.5 54.5h0M271.5 57.5h0M271.5 60.5h0M271.5 63.5h0M271.5 66.5h0M271.5 69.5h0M271.5 72.5h0M271.5 74.5h0M271.5 77.5h0M272.5 79.5h0M272.5 82.5h0M272.5 84.5h0M272.5 86.5h0M272.5 88.5h0M272.5 90.5h0M272.5 92.5h0M272.5 94.5h0M272.5 96.5h0M272.5 98.5h0M272.5 99.5h0M272.5 100.5h0M273.5 100.5h0M273.5 99.5h0M273.5 98.5h0M273.5 96.5h0M273.5 93.5h0M273.5 91.5h0M273.5 89.5h0M273.5 87.5h0M273.5 85.5h0M274.5 83.5h0M273.5 81.5h0M274.5 78.5h0M274.5 76.5h0M274.5 73.5h0M273.5 70.5h0M274.5 67.5h0M274.5 65.5h0M274.5 62.5h0M274.5 59.5h0M274.5 56.5h0M274.5 53.5h0M274.5 50.5h0" stroke="#000" stroke-width="1.75" stroke-linecap="round" fill="none" opacity="0.38"/>
<path d="M98 23.5h1M99 23.5h1M99 24.5h1M98 24.5h1M99 25.5h1M99 27.5h1M99 30.5h1M99 32.5h1M99 34.5h1M99 36.5h1M100 38.5h1M99 40.5h1M99 42.5h1M100 45.5h1M100 47.5h1M100 50.5h1M100 52.5h1M100 55.5h1M99 58.5h1M100 61.5h1M100 64.5h1M100 67.5h1M100 70.5h1M100 73.5h1M100 76.5h1M100 79.5h1M100 81.5h1M100 84.5h1M100 87.5h1M100 90.5h1M100 92.5h1M100 95.5h1M100 97.5h1M101 99.5h1M101 102.5h1M101 104.5h1M101 106.5h1M101 107.5h1M101 109.5h1M101 112.5h1M101 114.5h1M101 115.5h1M102 116.5h1M102 115.5h1M102 114.5h1M102 113.5h1M102 110.5h1M102 107.5h1M102 106.5h1M102 104.5h1M102 102.5h1M102 100.5h1M103 97.5h1M102 95.5h1M103 92.5h1M103 90.5h1M103 87.5h1M103 84.5h1M103 81.5h1M103 78.5h1M103 75.5h1M103 72.5h1M103 69.5h1M103 66.5h1M103 63.5h1M103 60.5h1M103 57.5h1M103 54.5h1M103 51.5h1M104 48.5h1M103 46.5h1M103 43.5h1M103 40.5h1M103 38.5h1M103 36.5h1M104 33.5h1M104 31.5h1M104 29.5h1M104 27.5h1M104 26.5h1M104 24.5h1M104 22.5h1M104 21.5h1M105 20.5h1M105 19.5h1M104 18.5h1M105 21.5h1M105 23.5h1M105 26.5h1M105 27.5h1M105 29.5h1M105 31.5h1M105 33.5h1M105 36.5h1M105 38.5h1M106 40.5h1M106 43.5h1M106 46.5h1M106 48.5h1M106 51.5h1M106 54.5h1M106 57.5h1M106 60.5h1M106 63.5h1M106 66.5h1M106 69.5h1M106 72.5h1M106 75.5h1M106 77.5h1M106 80.5h1M106 83.5h1M106 86.5h1M106 88.5h1M106 91.5h1M106 93.5h1M106 96.5h1M106 98.5h1M107 100.5h1M107 102.5h1M107 103.5h1M107 105.5h1M107 108.5h1M107 110.5h1M107 111.5h1M107 112.5h1M108 112.5h1M108 111.5h1M108 110.5h1M108 109.5h1M108 107.5h1M108 104.5h1M108 102.5h1M108 100.5h1M108 98.5h1M108 96.5h1M109 93.5h1M108 91.5h1M108 89.5h1M109 86.5h1M108 83.5h1M109 80.5h1M109 78.5h1M109 75.5h1M109 72.5h1M109 69.5h1M109 66.5h1M109 63.5h1M109 60.5h1M109 57.5h1M109 54.5h1M109 51.5h1M109 48.5h1M110 45.5h1M110 42.5h1M110 40.5h1M110 37.5h1M110 35.5h1M110 32.5h1M110 30.5h1M110 28.5h1M110 26.5h1M110 24.5h1M110 23.5h1M110 20.5h1M110 18.5h1M110 17.5h1M111 16.5h1M110 16.5h1M111 17.5h1M111 18.5h1M111 20.5h1M111 23.5h1M111 25.5h1M111 27.5h1M111 29.5h1M111 31.5h1M112 33.5h1M111 35.5h1M112 38.5h1M112 40.5h1M112 43.5h1M112 46.5h1M112 49.5h1M112 51.5h1M112 54.5h1M112 57.5h1M112 60.5h1M112 63.5h1M112 66.5h1M112 69.5h1M112 72.5h1M112 75.5h1M112 78.5h1M112 80.5h1M112 83.5h1M113 86.5h1M113 88.5h1M112 90.5h1M113 93.5h1M113 95.5h1M113 97.5h1M113 99.5h1M113 101.5h1M113 102.5h1M113 105.5h1M114 107.5h1M113 108.5h1M114 109.5h1M113 109.5h1M114 108.5h1M114 106.5h1M114 104.5h1M114 101.5h1M114 99.5h1M114 97.5h1M115 95.5h1M114 93.5h1M114 91.5h1M115 89.5h1M115 86.5h1M115 84.5h1M115 81.5h1M115 78.5h1M115 75.5h1M115 72.5h1M115 70.5h1M115 67.5h1M115 64.5h1M115 61.5h1M115 58.5h1M115 55.5h1M115 52.5h1M115 49.5h1M115 46.5h1M115 43.5h1M115 41.5h1M116 38.5h1M116 35.5h1M115 33.5h1M116 31.5h1M116 28.5h1M116 26.5h1M116 24.5h1M116 23.5h1M116 21.5h1M116 18.5h1M117 16.5h1M116 15.5h1M116 14.5h1M117 14.5h1M117 15.5h1M117 19.5h1M117 21.5h1M117 23.5h1M117 25.5h1M118 27.5h1M118 29.5h1M117 31.5h1M117 34.5h1M117 36.5h1M117 39.5h1M117 41.5h1M117 44.5h1M118 47.5h1M118 50.5h1M118 52.5h1M118 55.5h1M118 58.5h1M118 61.5h1M118 64.5h1M118 67.5h1M118 70.5h1M118 73.5h1M119 76.5h1M118 78.5h1M118 81.5h1M119 84.5h1M119 86.5h1M118 89.5h1M119 91.5h1M119 93.5h1M119 95.5h1M119 97.5h1M119 99.5h1M119 100.5h1M119 103.5h1M119 105.5h1M119 106.5h1M119 107.5h1M120 107.5h1M120 106.5h1M120 105.5h1M120 104.5h1M120 102.5h1M120 99.5h1M120 97.5h1M120 96.5h1M120 94.5h1M120 91.5h1M121 89.5h1M121 87.5h1M120 84.5h1M120 82.5h1M121 79.5h1M121 76.5h1M121 74.5h1M121 71.5h1M121 68.5h1M121 65.5h1M121 62.5h1M121 59.5h1M121 56.5h1M121 53.5h1M121 50.5h1M121 47.5h1M122 44.5h1M121 42.5h1M122 39.5h1M121 36.5h1M121 34.5h1M122 31.5h1M122 29.5h1M122 27.5h1M122 25.5h1M122 23.5h1M122 21.5h1M122 20.5h1M122 17.5h1M122 15.5h1M122 14.5h1M122 13.5h1M123 13.5h1M123 14.5h1M123 15.5h1M123 17.5h1M123 20.5h1M123 22.5h1M123 24.5h1M123 26.5h1M124 28.5h1M123 30.5h1M124 32.5h1M123 35.5h1M124 37.5h1M124 40.5h1M124 43.5h1M124 45.5h1M124 48.5h1M124 51.5h1M124 54.5h1M124 57.5h1M124 60.5h1M124 63.5h1M124 66.5h1M124 69.5h1M124 71.5h1M124 74.5h1M124 77.5h1M125 80.5h1M124 82.5h1M124 85.5h1M124 87.5h1M125 89.5h1M125 92.5h1M125 94.5h1M125 95.5h1M125 97.5h1M125 99.5h1M125 102.5h1M125 104.5h1M125 105.5h1M126 105.5h1M126 106.5h1M125 106.5h1M124 105.5h1M125 103.5h1M125 101.5h1M125 98.5h1M125 96.5h1M125 90.5h1M125 88.5h1M125 86.5h1M125 83.5h1M125 81.5h1M125 78.5h1M126 75.5h1M126 72.5h1M126 70.5h1M126 67.5h1M126 64.5h1M126 61.5h1M126 58.5h1M126 55.5h1M126 52.5h1M126 49.5h1M127 46.5h1M126 44.5h1M127 41.5h1M127 38.5h1M126 35.5h1M127 33.5h1M127 31.5h1M127 28.5h1M127 26.5h1M127 24.5h1M127 22.5h1M127 20.5h1M127 19.5h1M127 16.5h1M127 14.5h1M128 13.5h1M127 13.5h1M128 12.5h1M127 12.5h1M128 14.5h1M128 17.5h1M128 19.5h1M128 21.5h1M128 23.5h1M128 25.5h1M128 27.5h1M128 29.5h1M129 32.5h1M129 34.5h1M129 37.5h1M129 39.5h1M129 42.5h1M128 45.5h1M129 47.5h1M129 50.5h1M129 53.5h1M129 56.5h1M129 59.5h1M129 62.5h1M129 65.5h1M130 68.5h1M129 71.5h1M129 73.5h1M129 76.5h1M130 79.5h1M130 81.5h1M130 84.5h1M130 86.5h1M129 88.5h1M129 91.5h1M130 93.5h1M130 94.5h1M130 96.5h1M130 98.5h1M130 101.5h1M130 103.5h1M130 104.5h1M131 105.5h1M130 105.5h1M131 104.5h1M131 103.5h1M131 102.5h1M131 100.5h1M131 97.5h1M131 95.5h1M131 93.5h1M131 91.5h1M132 89.5h1M132 87.5h1M131 85.5h1M131 82.5h1M131 80.5h1M132 77.5h1M131 74.5h1M132 72.5h1M132 69.5h1M132 66.5h1M132 63.5h1M132 60.5h1M132 57.5h1M132 54.5h1M132 51.5h1M132 49.5h1M132 46.5h1M133 43.5h1M132 40.5h1M132 37.5h1M132 35.5h1M133 32.5h1M133 30.5h1M133 28.5h1M132 26.5h1M133 23.5h1M133 22.5h1M133 20.5h1M133 18.5h1M133 15.5h1M133 13.5h1M134 12.5h1M134 11.5h1M133 11.5h1M134 13.5h1M134 14.5h1M134 16.5h1M134 19.5h1M134 21.5h1M134 22.5h1M134 24.5h1M134 26.5h1M135 29.5h1M134 31.5h1M134 33.5h1M135 36.5h1M134 39.5h1M135 41.5h1M135 44.5h1M135 47.5h1M135 50.5h1M135 53.5h1M135 56.5h1M135 58.5h1M135 61.5h1M135 64.5h1M135 67.5h1M135 70.5h1M135 73.5h1M136 76.5h1M136 78.5h1M135 81.5h1M135 83.5h1M136 86.5h1M135 88.5h1M136 90.5h1M136 92.5h1M136 94.5h1M136 96.5h1M136 97.5h1M136 100.5h1M136 102.5h1M136 103.5h1M136 104.5h1M137 104.5h1M137 103.5h1M137 102.5h1M137 99.5h1M137 97.5h1M137 95.5h1M137 93.5h1M137 91.5h1M137 89.5h1M137 87.5h1M137 84.5h1M137 82.5h1M138 79.5h1M138 77.5h1M138 74.5h1M138 71.5h1M138 68.5h1M138 66.5h1M138 63.5h1M138 60.5h1M138 57.5h1M138 54.5h1M138 51.5h1M138 48.5h1M138 45.5h1M138 43.5h1M139 40.5h1M138 37.5h1M138 35.5h1M138 32.5h1M139 30.5h1M139 27.5h1M139 25.5h1M139 23.5h1M139 21.5h1M139 20.5h1M139 18.5h1M139 15.5h1M139 13.5h1M139 12.5h1M139 11.5h1M140 11.5h1M140 12.5h1M140 13.5h1M140 14.5h1M140 16.5h1M140 19.5h1M140 20.5h1M140 22.5h1M140 24.5h1M140 26.5h1M141 28.5h1M140 31.5h1M140 33.5h1M140 36.5h1M141 38.5h1M140 41.5h1M141 44.5h1M141 47.5h1M141 49.5h1M141 52.5h1M141 55.5h1M141 58.5h1M141 61.5h1M141 64.5h1M141 67.5h1M141 70.5h1M141 73.5h1M141 75.5h1M141 78.5h1M142 80.5h1M141 83.5h1M141 85.5h1M142 88.5h1M142 90.5h1M142 92.5h1M142 94.5h1M142 95.5h1M142 97.5h1M142 100.5h1M142 102.5h1M142 103.5h1M142 104.5h1M143 104.5h1M143 103.5h1M143 102.5h1M143 101.5h1M143 99.5h1M143 96.5h1M143 95.5h1M143 93.5h1M143 91.5h1M144 89.5h1M144 86.5h1M143 84.5h1M143 82.5h1M144 79.5h1M143 76.5h1M144 74.5h1M144 71.5h1M144 68.5h1M144 65.5h1M144 62.5h1M144 60.5h1M144 57.5h1M144 54.5h1M144 51.5h1M144 48.5h1M144 45.5h1M145 42.5h1M144 40.5h1M144 37.5h1M144 34.5h1M145 32.5h1M144 29.5h1M144 27.5h1M144 25.5h1M145 23.5h1M145 21.5h1M145 19.5h1M145 18.5h1M145 15.5h1M145 14.5h1M145 13.5h1M145 12.5h1M146 11.5h1M145 11.5h1M146 12.5h1M146 15.5h1M146 18.5h1M146 20.5h1M146 22.5h1M147 24.5h1M146 26.5h1M146 28.5h1M147 30.5h1M147 33.5h1M146 35.5h1M146 38.5h1M147 41.5h1M147 44.5h1M147 46.5h1M147 49.5h1M147 52.5h1M147 55.5h1M147 58.5h1M147 61.5h1M147 64.5h1M147 67.5h1M147 69.5h1M147 72.5h1M147 75.5h1M148 78.5h1M147 80.5h1M148 83.5h1M148 85.5h1M148 87.5h1M148 89.5h1M148 91.5h1M148 93.5h1M148 95.5h1M148 97.5h1M148 99.5h1M148 101.5h1M148 102.5h1M149 103.5h1M148 103.5h1M148 104.5h1M149 102.5h1M149 101.5h1M149 99.5h1M149 96.5h1M149 94.5h1M150 92.5h1M149 90.5h1M150 88.5h1M150 86.5h1M150 84.5h1M150 81.5h1M150 79.5h1M150 76.5h1M150 73.5h1M150 71.5h1M150 68.5h1M150 65.5h1M150 62.5h1M150 59.5h1M150 56.5h1M150 53.5h1M150 50.5h1M150 48.5h1M150 45.5h1M151 42.5h1M151 39.5h1M151 37.5h1M150 34.5h1M150 32.5h1M150 29.5h1M151 27.5h1M151 25.5h1M151 23.5h1M151 21.5h1M151 19.5h1M151 17.5h1M151 15.5h1M151 14.5h1M151 13.5h1M151 12.5h1M151 11.5h1M152 11.5h1M152 12.5h1M152 13.5h1M152 15.5h1M152 18.5h1M152 20.5h1M152 22.5h1M152 24.5h1M153 26.5h1M152 28.5h1M152 30.5h1M153 33.5h1M153 35.5h1M153 38.5h1M152 41.5h1M153 43.5h1M153 46.5h1M153 49.5h1M153 52.5h1M153 55.5h1M153 58.5h1M153 61.5h1M153 63.5h1M154 66.5h1M153 69.5h1M154 72.5h1M153 75.5h1M154 77.5h1M153 80.5h1M153 82.5h1M154 85.5h1M154 87.5h1M153 89.5h1M154 91.5h1M154 93.5h1M154 95.5h1M154 97.5h1M154 99.5h1M154 100.5h1M154 101.5h1M154 102.5h1M154 103.5h1M155 103.5h1M155 102.5h1M155 101.5h1M155 99.5h1M155 96.5h1M155 94.5h1M155 92.5h1M155 90.5h1M155 88.5h1M155 86.5h1M155 84.5h1M156 81.5h1M155 79.5h1M155 76.5h1M156 73.5h1M156 71.5h1M156 68.5h1M156 65.5h1M156 62.5h1M156 59.5h1M156 56.5h1M156 53.5h1M156 50.5h1M156 47.5h1M156 45.5h1M156 42.5h1M156 39.5h1M157 36.5h1M156 34.5h1M157 31.5h1M157 29.5h1M157 27.5h1M157 24.5h1M157 22.5h1M157 21.5h1M157 19.5h1M157 17.5h1M157 14.5h1M157 13.5h1M157 12.5h1M157 11.5h1M157 10.5h1M158 10.5h1M158 11.5h1M158 12.5h1M158 13.5h1M158 15.5h1M158 18.5h1M158 20.5h1M158 21.5h1M158 23.5h1M158 26.5h1M159 28.5h1M158 30.5h1M159 32.5h1M159 35.5h1M159 38.5h1M158 40.5h1M159 43.5h1M159 46.5h1M159 49.5h1M159 52.5h1M159 55.5h1M159 57.5h1M159 60.5h1M159 63.5h1M159 66.5h1M159 69.5h1M159 72.5h1M159 75.5h1M160 77.5h1M160 80.5h1M159 82.5h1M160 85.5h1M160 87.5h1M159 89.5h1M160 91.5h1M160 93.5h1M160 95.5h1M160 96.5h1M160 99.5h1M160 100.5h1M160 101.5h1M160 102.5h1M160 103.5h1M161 103.5h1M161 102.5h1M161 101.5h1M161 98.5h1M161 96.5h1M161 94.5h1M161 92.5h1M161 90.5h1M161 88.5h1M161 86.5h1M161 83.5h1M161 81.5h1M162 78.5h1M161 76.5h1M162 73.5h1M161 70.5h1M162 68.5h1M162 65.5h1M162 62.5h1M162 59.5h1M162 56.5h1M162 53.5h1M162 50.5h1M162 47.5h1M163 44.5h1M163 42.5h1M163 39.5h1M163 36.5h1M162 34.5h1M163 31.5h1M163 29.5h1M163 26.5h1M163 24.5h1M163 22.5h1M163 20.5h1M163 19.5h1M163 17.5h1M163 14.5h1M163 13.5h1M163 12.5h1M164 11.5h1M163 11.5h1M164 10.5h1M163 10.5h1M164 12.5h1M164 13.5h1M164 15.5h1M164 18.5h1M164 19.5h1M164 21.5h1M164 23.5h1M165 25.5h1M164 28.5h1M165 30.5h1M164 32.5h1M165 35.5h1M165 37.5h1M165 40.5h1M165 43.5h1M165 46.5h1M165 49.5h1M165 51.5h1M165 54.5h1M165 57.5h1M165 60.5h1M165 63.5h1M165 66.5h1M165 69.5h1M166 72.5h1M165 74.5h1M165 77.5h1M166 80.5h1M165 82.5h1M165 84.5h1M166 87.5h1M165 89.5h1M166 91.5h1M166 93.5h1M166 95.5h1M166 96.5h1M166 99.5h1M166 100.5h1M166 101.5h1M166 102.5h1M166 103.5h1M167 103.5h1M167 101.5h1M167 100.5h1M167 98.5h1M167 95.5h1M167 94.5h1M167 92.5h1M167 90.5h1M167 88.5h1M167 86.5h1M168 83.5h1M167 81.5h1M168 78.5h1M168 76.5h1M167 73.5h1M168 70.5h1M168 67.5h1M168 64.5h1M168 62.5h1M168 59.5h1M168 56.5h1M168 53.5h1M168 50.5h1M168 47.5h1M168 44.5h1M168 41.5h1M168 39.5h1M168 36.5h1M169 33.5h1M169 31.5h1M169 29.5h1M169 26.5h1M169 24.5h1M169 22.5h1M169 20.5h1M169 18.5h1M169 17.5h1M169 14.5h1M169 13.5h1M169 12.5h1M169 11.5h1M170 10.5h1M169 10.5h1M170 11.5h1M170 12.5h1M170 15.5h1M170 18.5h1M170 19.5h1M170 21.5h1M170 23.5h1M170 25.5h1M170 27.5h1M171 30.5h1M171 32.5h1M170 35.5h1M171 37.5h1M171 40.5h1M171 43.5h1M170 46.5h1M171 48.5h1M171 51.5h1M171 54.5h1M171 57.5h1M171 60.5h1M171 63.5h1M171 66.5h1M171 69.5h1M171 71.5h1M171 74.5h1M172 77.5h1M171 79.5h1M171 82.5h1M172 84.5h1M172 87.5h1M172 89.5h1M172 91.5h1M171 93.5h1M172 94.5h1M172 96.5h1M172 99.5h1M172 100.5h1M172 101.5h1M172 102.5h1M173 102.5h1M172 103.5h1M173 103.5h1M173 101.5h1M173 100.5h1M173 98.5h1M173 95.5h1M173 93.5h1M173 92.5h1M173 90.5h1M173 88.5h1M173 85.5h1M173 83.5h1M174 81.5h1M173 78.5h1M174 75.5h1M173 73.5h1M173 70.5h1M174 67.5h1M174 64.5h1M174 61.5h1M174 58.5h1M174 56.5h1M174 53.5h1M174 50.5h1M174 47.5h1M174 44.5h1M174 41.5h1M174 39.5h1M175 36.5h1M174 33.5h1M175 31.5h1M175 28.5h1M175 26.5h1M174 24.5h1M175 22.5h1M175 20.5h1M175 18.5h1M175 17.5h1M175 14.5h1M175 13.5h1M175 12.5h1M176 11.5h1M175 10.5h1M176 10.5h1M175 11.5h1M176 12.5h1M176 15.5h1M176 17.5h1M176 19.5h1M176 21.5h1M176 23.5h1M176 25.5h1M176 27.5h1M176 30.5h1M177 32.5h1M177 35.5h1M177 37.5h1M177 40.5h1M176 43.5h1M177 45.5h1M177 48.5h1M177 51.5h1M177 54.5h1M177 57.5h1M177 60.5h1M177 63.5h1M177 66.5h1M177 68.5h1M178 71.5h1M177 74.5h1M177 77.5h1M177 79.5h1M178 82.5h1M178 84.5h1M177 86.5h1M178 89.5h1M178 91.5h1M178 92.5h1M178 94.5h1M178 96.5h1M178 99.5h1M178 100.5h1M178 101.5h1M179 101.5h1M178 102.5h1M179 103.5h1M179 102.5h1M179 100.5h1M179 98.5h1M179 95.5h1M179 93.5h1M179 91.5h1M179 90.5h1M180 87.5h1M179 85.5h1M180 83.5h1M179 80.5h1M179 78.5h1M179 75.5h1M180 73.5h1M180 70.5h1M180 67.5h1M180 64.5h1M180 61.5h1M180 58.5h1M180 55.5h1M180 53.5h1M180 50.5h1M180 47.5h1M180 44.5h1M180 41.5h1M180 38.5h1M181 36.5h1M181 33.5h1M181 31.5h1M180 28.5h1M181 26.5h1M181 24.5h1M181 22.5h1M181 20.5h1M181 18.5h1M181 17.5h1M181 14.5h1M181 13.5h1M181 12.5h1M181 11.5h1M182 10.5h1M181 10.5h1M182 11.5h1M182 12.5h1M182 14.5h1M182 17.5h1M182 19.5h1M182 21.5h1M182 23.5h1M182 25.5h1M183 27.5h1M183 29.5h1M183 32.5h1M182 34.5h1M182 37.5h1M183 40.5h1M182 42.5h1M183 45.5h1M183 48.5h1M183 51.5h1M183 54.5h1M183 57.5h1M183 60.5h1M183 63.5h1M183 65.5h1M183 68.5h1M183 71.5h1M183 74.5h1M183 76.5h1M184 79.5h1M184 82.5h1M184 84.5h1M184 86.5h1M184 88.5h1M184 90.5h1M184 92.5h1M184 94.5h1M184 96.5h1M184 98.5h1M184 99.5h1M184 100.5h1M184 101.5h1M184 102.5h1M185 102.5h1M185 101.5h1M185 100.5h1M185 98.5h1M185 95.5h1M185 93.5h1M185 91.5h1M185 89.5h1M185 87.5h1M186 85.5h1M185 83.5h1M186 80.5h1M186 78.5h1M186 75.5h1M186 72.5h1M186 70.5h1M185 67.5h1M186 64.5h1M186 61.5h1M186 58.5h1M186 55.5h1M186 52.5h1M186 49.5h1M186 47.5h1M186 44.5h1M186 41.5h1M186 38.5h1M187 36.5h1M187 33.5h1M187 31.5h1M187 28.5h1M187 26.5h1M187 24.5h1M187 22.5h1M187 20.5h1M187 18.5h1M187 16.5h1M187 14.5h1M187 13.5h1M187 12.5h1M187 11.5h1M187 10.5h1M188 10.5h1M188 11.5h1M188 12.5h1M188 14.5h1M188 17.5h1M188 19.5h1M188 21.5h1M188 23.5h1M188 25.5h1M188 27.5h1M189 29.5h1M189 32.5h1M189 34.5h1M189 37.5h1M189 40.5h1M189 42.5h1M189 45.5h1M189 48.5h1M189 51.5h1M189 54.5h1M189 57.5h1M189 60.5h1M189 62.5h1M189 65.5h1M189 68.5h1M190 71.5h1M189 74.5h1M190 76.5h1M189 79.5h1M189 81.5h1M189 84.5h1M190 86.5h1M189 88.5h1M189 90.5h1M190 92.5h1M190 94.5h1M190 95.5h1M190 98.5h1M190 99.5h1M190 100.5h1M190 101.5h1M190 102.5h1M191 102.5h1M191 101.5h1M191 100.5h1M191 97.5h1M191 95.5h1M191 93.5h1M191 91.5h1M192 89.5h1M191 87.5h1M191 85.5h1M191 82.5h1M191 80.5h1M191 78.5h1M192 75.5h1M192 72.5h1M191 69.5h1M192 67.5h1M192 64.5h1M192 61.5h1M192 58.5h1M192 55.5h1M192 52.5h1M192 49.5h1M192 46.5h1M192 44.5h1M193 41.5h1M192 38.5h1M193 35.5h1M193 33.5h1M193 30.5h1M193 28.5h1M193 26.5h1M193 24.5h1M193 22.5h1M193 20.5h1M193 18.5h1M193 16.5h1M193 14.5h1M193 12.5h1M193 11.5h1M193 10.5h1M194 10.5h1M193 9.5h1M194 11.5h1M194 12.5h1M194 14.5h1M194 17.5h1M194 19.5h1M194 21.5h1M194 22.5h1M194 25.5h1M194 27.5h1M194 29.5h1M195 32.5h1M195 34.5h1M194 37.5h1M195 39.5h1M195 42.5h1M195 45.5h1M195 48.5h1M195 51.5h1M195 54.5h1M195 56.5h1M195 59.5h1M195 62.5h1M195 65.5h1M195 68.5h1M195 71.5h1M196 73.5h1M195 76.5h1M195 79.5h1M195 81.5h1M196 84.5h1M196 86.5h1M196 88.5h1M196 90.5h1M196 92.5h1M196 94.5h1M196 95.5h1M196 98.5h1M196 99.5h1M196 100.5h1M196 101.5h1M196 102.5h1M195 101.5h1M196 97.5h1M196 93.5h1M196 91.5h1M196 89.5h1M197 87.5h1M196 85.5h1M197 82.5h1M197 80.5h1M197 77.5h1M197 75.5h1M197 72.5h1M197 69.5h1M197 66.5h1M197 64.5h1M197 61.5h1M197 58.5h1M197 55.5h1M197 52.5h1M197 49.5h1M197 46.5h1M197 43.5h1M197 41.5h1M198 38.5h1M198 35.5h1M198 33.5h1M197 30.5h1M198 28.5h1M198 26.5h1M198 23.5h1M198 21.5h1M198 19.5h1M198 18.5h1M198 16.5h1M198 13.5h1M198 12.5h1M199 11.5h1M198 11.5h1M198 10.5h1M198 9.5h1M199 9.5h1M199 10.5h1M199 12.5h1M199 14.5h1M199 17.5h1M199 18.5h1M199 20.5h1M199 22.5h1M199 24.5h1M199 27.5h1M199 29.5h1M199 31.5h1M199 34.5h1M199 36.5h1M200 39.5h1M199 42.5h1M200 45.5h1M200 48.5h1M200 50.5h1M200 53.5h1M200 56.5h1M200 59.5h1M200 62.5h1M200 65.5h1M200 68.5h1M200 70.5h1M201 73.5h1M201 76.5h1M201 78.5h1M201 81.5h1M200 83.5h1M201 86.5h1M201 88.5h1M201 90.5h1M201 92.5h1M201 93.5h1M201 95.5h1M201 98.5h1M201 99.5h1M201 100.5h1M202 101.5h1M201 101.5h1M201 102.5h1M202 102.5h1M202 99.5h1M202 97.5h1M202 94.5h1M202 92.5h1M202 91.5h1M202 89.5h1M202 87.5h1M202 84.5h1M203 82.5h1M202 80.5h1M202 77.5h1M203 74.5h1M203 72.5h1M203 69.5h1M203 66.5h1M203 63.5h1M203 60.5h1M203 58.5h1M203 55.5h1M203 52.5h1M203 49.5h1M203 46.5h1M204 43.5h1M204 40.5h1M203 38.5h1M203 35.5h1M203 32.5h1M204 30.5h1M204 28.5h1M204 25.5h1M204 23.5h1M204 21.5h1M204 19.5h1M204 17.5h1M204 16.5h1M204 13.5h1M204 12.5h1M204 11.5h1M204 10.5h1M205 10.5h1M204 9.5h1M205 9.5h1M205 11.5h1M205 12.5h1M205 14.5h1M205 17.5h1M205 18.5h1M205 20.5h1M205 22.5h1M205 24.5h1M205 26.5h1M206 29.5h1M206 31.5h1M205 34.5h1M206 36.5h1M206 39.5h1M206 42.5h1M206 44.5h1M206 47.5h1M206 50.5h1M206 53.5h1M206 56.5h1M206 59.5h1M206 62.5h1M206 65.5h1M206 68.5h1M206 70.5h1M207 73.5h1M207 76.5h1M206 78.5h1M207 81.5h1M207 83.5h1M206 85.5h1M206 88.5h1M207 90.5h1M207 91.5h1M207 93.5h1M207 95.5h1M207 98.5h1M207 99.5h1M207 100.5h1M208 101.5h1M207 101.5h1M207 102.5h1M208 102.5h1M208 100.5h1M208 99.5h1M208 97.5h1M208 94.5h1M208 92.5h1M208 90.5h1M208 89.5h1M208 86.5h1M208 84.5h1M209 82.5h1M208 79.5h1M209 77.5h1M209 74.5h1M209 72.5h1M209 69.5h1M209 66.5h1M209 63.5h1M209 60.5h1M209 57.5h1M209 54.5h1M209 52.5h1M209 49.5h1M209 46.5h1M209 43.5h1M210 40.5h1M210 37.5h1M209 35.5h1M210 32.5h1M209 30.5h1M209 27.5h1M210 25.5h1M210 23.5h1M210 21.5h1M210 19.5h1M210 17.5h1M210 16.5h1M210 13.5h1M210 12.5h1M210 11.5h1M211 10.5h1M211 9.5h1M210 9.5h1M211 14.5h1M211 16.5h1M211 18.5h1M212 20.5h1M211 22.5h1M211 24.5h1M212 26.5h1M212 28.5h1M212 31.5h1M211 33.5h1M212 36.5h1M212 39.5h1M211 42.5h1M212 44.5h1M212 47.5h1M212 50.5h1M212 53.5h1M212 56.5h1M212 59.5h1M212 62.5h1M212 65.5h1M212 67.5h1M212 70.5h1M212 73.5h1M212 76.5h1M213 78.5h1M212 81.5h1M213 83.5h1M213 85.5h1M213 87.5h1M213 89.5h1M213 91.5h1M213 93.5h1M213 95.5h1M213 97.5h1M213 99.5h1M213 100.5h1M214 101.5h1M213 101.5h1M214 100.5h1M214 99.5h1M214 97.5h1M214 94.5h1M214 92.5h1M214 90.5h1M214 88.5h1M215 86.5h1M214 84.5h1M214 82.5h1M214 79.5h1M214 77.5h1M215 74.5h1M214 71.5h1M215 69.5h1M214 66.5h1M215 63.5h1M215 60.5h1M215 57.5h1M215 54.5h1M215 51.5h1M215 49.5h1M215 46.5h1M215 43.5h1M216 40.5h1M216 37.5h1M216 35.5h1M215 32.5h1M215 30.5h1M216 27.5h1M215 25.5h1M216 23.5h1M216 21.5h1M216 19.5h1M216 17.5h1M216 15.5h1M216 13.5h1M216 12.5h1M216 11.5h1M217 10.5h1M216 9.5h1M217 9.5h1M216 10.5h1M217 11.5h1M217 13.5h1M217 16.5h1M217 18.5h1M217 20.5h1M217 22.5h1M217 24.5h1M217 26.5h1M217 28.5h1M218 31.5h1M218 33.5h1M218 36.5h1M218 39.5h1M217 41.5h1M217 44.5h1M218 47.5h1M218 50.5h1M218 53.5h1M218 56.5h1M218 59.5h1M218 62.5h1M218 64.5h1M218 67.5h1M218 70.5h1M218 73.5h1M219 75.5h1M218 78.5h1M219 80.5h1M218 83.5h1M218 85.5h1M219 87.5h1M219 89.5h1M219 91.5h1M219 93.5h1M219 95.5h1M219 97.5h1M219 98.5h1M219 99.5h1M219 100.5h1M219 101.5h1M220 101.5h1M220 100.5h1M220 99.5h1M220 97.5h1M220 94.5h1M220 92.5h1M220 90.5h1M220 88.5h1M220 86.5h1M220 84.5h1M221 82.5h1M220 79.5h1M220 77.5h1M220 74.5h1M221 71.5h1M221 69.5h1M220 66.5h1M221 63.5h1M221 60.5h1M221 57.5h1M221 54.5h1M221 51.5h1M221 48.5h1M221 45.5h1M221 43.5h1M221 40.5h1M222 37.5h1M222 34.5h1M221 32.5h1M221 29.5h1M222 27.5h1M222 25.5h1M222 23.5h1M222 20.5h1M222 19.5h1M222 17.5h1M222 15.5h1M222 12.5h1M222 10.5h1M223 9.5h1M222 9.5h1M223 8.5h1M222 8.5h1M223 10.5h1M223 11.5h1M223 13.5h1M223 16.5h1M223 18.5h1M223 19.5h1M223 21.5h1M223 24.5h1M224 26.5h1M224 28.5h1M224 31.5h1M224 33.5h1M224 36.5h1M223 38.5h1M224 41.5h1M224 44.5h1M224 47.5h1M224 50.5h1M224 53.5h1M224 56.5h1M224 58.5h1M224 61.5h1M224 64.5h1M224 67.5h1M224 70.5h1M224 73.5h1M224 75.5h1M225 78.5h1M225 80.5h1M225 83.5h1M225 85.5h1M225 87.5h1M225 89.5h1M225 91.5h1M225 93.5h1M225 94.5h1M225 97.5h1M225 99.5h1M225 100.5h1M225 101.5h1M226 101.5h1M226 100.5h1M226 99.5h1M226 97.5h1M226 94.5h1M226 92.5h1M227 90.5h1M226 88.5h1M226 86.5h1M226 84.5h1M226 81.5h1M226 79.5h1M226 76.5h1M226 74.5h1M227 71.5h1M227 68.5h1M227 66.5h1M227 63.5h1M227 60.5h1M227 57.5h1M227 54.5h1M227 51.5h1M227 48.5h1M227 45.5h1M227 42.5h1M227 40.5h1M227 37.5h1M227 34.5h1M228 32.5h1M228 29.5h1M227 27.5h1M228 24.5h1M228 22.5h1M228 20.5h1M228 18.5h1M228 17.5h1M228 15.5h1M228 12.5h1M228 10.5h1M228 9.5h1M228 8.5h1M229 8.5h1M229 9.5h1M229 11.5h1M229 13.5h1M229 16.5h1M229 17.5h1M229 19.5h1M229 21.5h1M229 23.5h1M229 26.5h1M230 28.5h1M230 30.5h1M229 33.5h1M229 35.5h1M230 38.5h1M230 41.5h1M230 44.5h1M230 47.5h1M230 50.5h1M230 52.5h1M230 55.5h1M230 58.5h1M230 61.5h1M230 64.5h1M230 67.5h1M230 70.5h1M231 72.5h1M230 75.5h1M231 78.5h1M230 80.5h1M231 83.5h1M231 85.5h1M231 87.5h1M231 89.5h1M231 91.5h1M231 93.5h1M231 94.5h1M231 97.5h1M231 99.5h1M231 100.5h1M231 101.5h1M232 101.5h1M232 100.5h1M232 99.5h1M232 96.5h1M232 94.5h1M232 92.5h1M232 90.5h1M232 88.5h1M232 86.5h1M232 84.5h1M233 81.5h1M232 79.5h1M233 76.5h1M232 74.5h1M233 71.5h1M233 68.5h1M233 65.5h1M233 63.5h1M233 60.5h1M233 57.5h1M233 54.5h1M233 51.5h1M233 48.5h1M233 45.5h1M234 42.5h1M234 39.5h1M233 37.5h1M234 34.5h1M234 31.5h1M234 29.5h1M234 27.5h1M234 24.5h1M234 22.5h1M234 20.5h1M234 18.5h1M234 16.5h1M234 15.5h1M234 12.5h1M234 10.5h1M234 9.5h1M234 8.5h1M235 8.5h1M235 9.5h1M235 10.5h1M235 13.5h1M235 16.5h1M235 17.5h1M235 19.5h1M235 21.5h1M236 23.5h1M236 25.5h1M235 28.5h1M235 30.5h1M236 33.5h1M236 35.5h1M236 38.5h1M236 41.5h1M236 44.5h1M236 46.5h1M236 49.5h1M236 52.5h1M236 55.5h1M236 58.5h1M236 61.5h1M236 64.5h1M236 67.5h1M236 70.5h1M236 72.5h1M237 75.5h1M237 78.5h1M236 80.5h1M237 82.5h1M237 85.5h1M237 87.5h1M237 89.5h1M236 91.5h1M237 93.5h1M237 94.5h1M237 97.5h1M237 99.5h1M237 100.5h1M237 101.5h1M238 101.5h1M238 100.5h1M238 99.5h1M238 96.5h1M238 93.5h1M238 92.5h1M238 90.5h1M238 88.5h1M238 86.5h1M239 84.5h1M239 81.5h1M239 79.5h1M238 76.5h1M238 74.5h1M239 71.5h1M239 68.5h1M239 65.5h1M239 62.5h1M239 59.5h1M239 57.5h1M239 54.5h1M239 51.5h1M239 48.5h1M239 45.5h1M239 42.5h1M239 39.5h1M239 37.5h1M240 34.5h1M240 31.5h1M240 29.5h1M240 26.5h1M240 24.5h1M240 22.5h1M239 20.5h1M240 18.5h1M240 16.5h1M240 15.5h1M240 12.5h1M240 10.5h1M240 9.5h1M240 8.5h1M241 8.5h1M241 9.5h1M241 10.5h1M241 12.5h1M241 15.5h1M241 17.5h1M241 19.5h1M241 21.5h1M241 23.5h1M241 25.5h1M242 27.5h1M241 30.5h1M242 32.5h1M241 35.5h1M242 38.5h1M242 41.5h1M242 43.5h1M242 46.5h1M242 49.5h1M242 52.5h1M242 55.5h1M242 58.5h1M242 61.5h1M242 64.5h1M242 67.5h1M242 69.5h1M242 72.5h1M242 75.5h1M242 77.5h1M243 80.5h1M242 82.5h1M242 85.5h1M243 87.5h1M243 89.5h1M243 91.5h1M243 92.5h1M243 94.5h1M243 97.5h1M243 99.5h1M243 100.5h1M244 101.5h1M243 101.5h1M244 100.5h1M244 99.5h1M244 98.5h1M244 96.5h1M244 93.5h1M244 92.5h1M244 90.5h1M244 88.5h1M244 86.5h1M244 83.5h1M245 81.5h1M244 79.5h1M245 76.5h1M245 73.5h1M245 71.5h1M245 68.5h1M245 65.5h1M245 62.5h1M245 59.5h1M245 56.5h1M245 53.5h1M245 51.5h1M245 48.5h1M245 45.5h1M245 42.5h1M245 39.5h1M245 36.5h1M245 34.5h1M245 31.5h1M246 29.5h1M245 26.5h1M245 24.5h1M246 22.5h1M246 20.5h1M246 18.5h1M246 16.5h1M246 14.5h1M246 12.5h1M247 10.5h1M246 9.5h1M247 8.5h1M246 8.5h1M246 7.5h1M247 9.5h1M247 12.5h1M247 15.5h1M247 17.5h1M247 19.5h1M247 21.5h1M247 23.5h1M247 25.5h1M247 27.5h1M248 30.5h1M248 32.5h1M248 35.5h1M247 38.5h1M247 40.5h1M248 43.5h1M248 46.5h1M248 49.5h1M248 52.5h1M248 55.5h1M248 58.5h1M248 61.5h1M248 64.5h1M248 66.5h1M248 69.5h1M249 72.5h1M248 75.5h1M248 77.5h1M249 80.5h1M248 82.5h1M248 84.5h1M249 87.5h1M249 89.5h1M249 91.5h1M249 92.5h1M249 94.5h1M249 97.5h1M249 99.5h1M249 100.5h1M250 101.5h1M249 101.5h1M250 100.5h1M250 99.5h1M250 98.5h1M250 96.5h1M250 93.5h1M250 91.5h1M251 90.5h1M250 88.5h1M251 86.5h1M251 83.5h1M251 81.5h1M251 78.5h1M251 76.5h1M251 73.5h1M250 71.5h1M251 68.5h1M251 65.5h1M251 62.5h1M251 59.5h1M251 56.5h1M251 53.5h1M251 50.5h1M251 47.5h1M251 45.5h1M251 42.5h1M251 39.5h1M252 36.5h1M252 33.5h1M252 31.5h1M251 28.5h1M251 26.5h1M252 24.5h1M252 22.5h1M252 19.5h1M252 18.5h1M252 16.5h1M252 14.5h1M252 11.5h1M252 9.5h1M252 8.5h1M253 7.5h1M252 7.5h1M253 8.5h1M253 9.5h1M253 10.5h1M253 12.5h1M253 15.5h1M253 17.5h1M253 18.5h1M253 20.5h1M253 23.5h1M253 25.5h1M254 27.5h1M254 30.5h1M253 32.5h1M253 35.5h1M254 37.5h1M253 40.5h1M253 43.5h1M254 46.5h1M254 49.5h1M254 52.5h1M254 55.5h1M254 58.5h1M254 61.5h1M254 63.5h1M254 66.5h1M254 69.5h1M254 72.5h1M254 75.5h1M255 77.5h1M255 80.5h1M254 82.5h1M255 84.5h1M255 86.5h1M255 89.5h1M255 90.5h1M255 92.5h1M255 94.5h1M255 97.5h1M255 99.5h1M256 100.5h1M255 100.5h1M256 101.5h1M256 99.5h1M256 98.5h1M256 96.5h1M256 93.5h1M256 91.5h1M256 89.5h1M256 87.5h1M257 85.5h1M257 83.5h1M256 81.5h1M257 78.5h1M257 76.5h1M257 73.5h1M257 70.5h1M257 68.5h1M257 65.5h1M257 62.5h1M257 59.5h1M257 56.5h1M257 53.5h1M257 50.5h1M257 47.5h1M257 44.5h1M257 42.5h1M257 39.5h1M258 36.5h1M258 33.5h1M258 31.5h1M258 28.5h1M258 26.5h1M258 24.5h1M258 21.5h1M258 19.5h1M258 17.5h1M258 16.5h1M258 14.5h1M258 11.5h1M258 9.5h1M259 8.5h1M258 8.5h1M258 7.5h1M259 7.5h1M259 9.5h1M259 10.5h1M259 12.5h1M259 15.5h1M259 16.5h1M259 18.5h1M259 20.5h1M259 22.5h1M259 25.5h1M260 27.5h1M260 29.5h1M260 32.5h1M259 35.5h1M259 37.5h1M260 40.5h1M260 43.5h1M260 46.5h1M260 49.5h1M260 52.5h1M260 55.5h1M260 58.5h1M260 60.5h1M260 63.5h1M260 66.5h1M261 69.5h1M261 72.5h1M260 74.5h1M261 77.5h1M260 80.5h1M261 82.5h1M261 84.5h1M261 86.5h1M261 88.5h1M261 90.5h1M261 92.5h1M261 94.5h1M261 96.5h1M261 99.5h1M262 99.5h1M261 100.5h1M262 101.5h1M262 100.5h1M262 98.5h1M262 96.5h1M262 93.5h1M262 91.5h1M262 89.5h1M262 87.5h1M263 85.5h1M262 83.5h1M262 81.5h1M263 78.5h1M262 76.5h1M262 73.5h1M263 70.5h1M263 68.5h1M263 65.5h1M263 62.5h1M263 59.5h1M263 56.5h1M263 53.5h1M263 50.5h1M263 47.5h1M263 44.5h1M263 41.5h1M263 39.5h1M263 36.5h1M264 33.5h1M264 31.5h1M264 28.5h1M264 26.5h1M263 23.5h1M264 21.5h1M264 19.5h1M264 17.5h1M264 16.5h1M264 14.5h1M264 11.5h1M265 9.5h1M264 8.5h1M265 8.5h1M264 7.5h1M265 7.5h1M265 10.5h1M265 12.5h1M265 15.5h1M265 16.5h1M265 18.5h1M265 20.5h1M266 22.5h1M265 25.5h1M266 27.5h1M266 29.5h1M265 32.5h1M266 35.5h1M266 37.5h1M266 40.5h1M266 43.5h1M266 46.5h1M266 49.5h1M266 52.5h1M266 54.5h1M266 57.5h1M266 60.5h1M266 63.5h1M266 66.5h1M266 69.5h1M266 72.5h1M267 74.5h1M266 77.5h1M267 79.5h1M267 82.5h1M266 84.5h1M266 86.5h1M267 88.5h1M267 90.5h1M267 92.5h1M267 94.5h1M267 96.5h1M267 98.5h1M267 99.5h1M267 100.5h1M267 101.5h1M266 100.5h1M267 93.5h1M267 91.5h1M267 89.5h1M267 87.5h1M267 85.5h1M268 83.5h1M268 81.5h1M267 78.5h1M267 76.5h1M268 73.5h1M268 70.5h1M268 67.5h1M268 65.5h1M268 62.5h1M268 59.5h1M268 56.5h1M268 53.5h1M268 50.5h1M268 47.5h1M268 44.5h1M268 41.5h1M269 39.5h1M268 36.5h1M268 33.5h1M268 31.5h1M268 28.5h1M269 26.5h1M269 23.5h1M269 21.5h1M269 19.5h1M269 17.5h1M269 15.5h1M269 14.5h1M269 11.5h1M269 9.5h1M270 8.5h1M269 8.5h1M269 7.5h1M270 7.5h1M270 9.5h1M270 12.5h1M270 15.5h1M270 16.5h1M270 18.5h1M270 20.5h1M271 22.5h1M271 24.5h1M270 27.5h1M271 29.5h1M270 32.5h1M270 34.5h1M271 37.5h1M271 40.5h1M271 43.5h1M271 46.5h1M271 49.5h1M271 51.5h1M271 54.5h1M271 57.5h1M271 60.5h1M271 63.5h1M271 66.5h1M271 69.5h1M271 72.5h1M271 74.5h1M271 77.5h1M272 79.5h1M272 82.5h1M272 84.5h1M272 86.5h1M272 88.5h1M272 90.5h1M272 92.5h1M272 94.5h1M272 96.5h1M272 98.5h1M272 99.5h1M272 100.5h1M273 100.5h1M273 99.5h1M273 98.5h1M273 96.5h1M273 93.5h1M273 91.5h1M273 89.5h1M273 87.5h1M273 85.5h1M274 83.5h1M273 81.5h1M274 78.5h1M274 76.5h1M274 73.5h1M273 70.5h1M274 67.5h1M274 65.5h1M274 62.5h1M274 59.5h1M274 56.5h1M274 53.5h1M274 50.5h1" stroke="#000" stroke-width="1" fill="none" shape-rendering="crispEdges"/>
<path d="M104.2 20.3 L106.3 18.9 L110.4 17.3 L114.5 16.1 L118.6 15.1 L121.9 14.3 L128.0 13.6 L134.7 13.0 L152.4 12.2 L176.0 11.5 L190.0 11.2 L235.0 9.6 L258.0 8.8 L271.0 8.6" stroke="#fff" stroke-width="0.9" fill="none" opacity="0.9"/>
<path d="M98.0 24.11 L99.0 23.19 L100.0 22.30 L101.0 21.57 L102.0 20.85 L103.0 20.10 L104.0 19.35 L105.0 18.67 L106.0 18.00 L107.0 17.53 L108.0 17.14 L109.0 16.75 L110.0 16.36 L111.0 16.02 L112.0 15.73 L113.0 15.44 L114.0 15.15 L115.0 14.87 L116.0 14.60 L117.0 14.33 L118.0 14.06 L119.0 13.82 L120.0 13.60 L121.0 13.39 L122.0 13.19 L123.0 13.06 L124.0 12.92" stroke="#000" stroke-width="1.1" fill="none"/>
<path d="M124.0 12.92 L125.0 12.79 L126.0 12.66 L127.0 12.53 L128.0 12.40 L129.0 12.31 L130.0 12.22 L131.0 12.13 L132.0 12.04 L133.0 11.95 L134.0 11.86 L135.0 11.79 L136.0 11.74 L137.0 11.70 L138.0 11.65 L139.0 11.61 L140.0 11.56 L141.0 11.52 L142.0 11.47 L143.0 11.42 L144.0 11.38 L145.0 11.33 L146.0 11.29 L147.0 11.24 L148.0 11.20 L149.0 11.15 L150.0 11.11 L151.0 11.06 L152.0 11.02 L153.0 10.98 L154.0 10.95 L155.0 10.92 L156.0 10.89 L157.0 10.86 L158.0 10.83 L159.0 10.80 L160.0 10.77 L161.0 10.74 L162.0 10.72 L163.0 10.69 L164.0 10.66 L165.0 10.63 L166.0 10.60 L167.0 10.57 L168.0 10.54 L169.0 10.51 L170.0 10.48 L171.0 10.45 L172.0 10.42 L173.0 10.39 L174.0 10.36 L175.0 10.33 L176.0 10.30 L177.0 10.29 L178.0 10.27 L179.0 10.26 L180.0 10.24 L181.0 10.23 L182.0 10.21 L183.0 10.20 L184.0 10.19 L185.0 10.17 L186.0 10.16 L187.0 10.14 L188.0 10.13 L189.0 10.11 L190.0 10.10 L191.0 10.06 L192.0 10.02 L193.0 9.99 L194.0 9.95 L195.0 9.91 L196.0 9.87 L197.0 9.84 L198.0 9.80 L199.0 9.76 L200.0 9.72 L201.0 9.68 L202.0 9.65 L203.0 9.61 L204.0 9.57 L205.0 9.53 L206.0 9.50 L207.0 9.46 L208.0 9.42 L209.0 9.38 L210.0 9.34 L211.0 9.31 L212.0 9.27 L213.0 9.23 L214.0 9.19 L215.0 9.16 L216.0 9.12 L217.0 9.08 L218.0 9.04 L219.0 9.00 L220.0 8.97 L221.0 8.93 L222.0 8.89 L223.0 8.85 L224.0 8.82 L225.0 8.78 L226.0 8.74 L227.0 8.70 L228.0 8.66 L229.0 8.63 L230.0 8.59 L231.0 8.55 L232.0 8.51 L233.0 8.48 L234.0 8.44 L235.0 8.40 L236.0 8.37 L237.0 8.33 L238.0 8.30 L239.0 8.26 L240.0 8.23 L241.0 8.19 L242.0 8.16 L243.0 8.12 L244.0 8.09 L245.0 8.05 L246.0 8.02 L247.0 7.98 L248.0 7.95 L249.0 7.91 L250.0 7.88 L251.0 7.84 L252.0 7.81 L253.0 7.77 L254.0 7.74 L255.0 7.70 L256.0 7.67 L257.0 7.63 L258.0 7.60 L259.0 7.58 L260.0 7.57 L261.0 7.55 L262.0 7.54 L263.0 7.52 L264.0 7.51 L265.0 7.49 L266.0 7.48 L267.0 7.46 L268.0 7.45 L269.0 7.43 L270.0 7.42 L271.0 7.40 L272.0 7.38" stroke="#000" stroke-width="1.1" fill="none" stroke-dasharray="1.1 0.55"/>
<path d="M101.2 116.53 L102.2 115.86 L103.2 115.19 L104.2 114.51 L105.2 113.84 L106.2 113.17 L107.2 112.56 L108.2 111.96 L109.2 111.37 L110.2 110.77 L111.2 110.37 L112.2 110.01 L113.2 109.66 L114.2 109.31 L115.2 108.96 L116.2 108.62 L117.2 108.28 L118.2 107.94 L119.2 107.62 L120.2 107.32 L121.2 107.01 L122.2 106.74 L123.2 106.55 L124.2 106.35 L125.2 106.15" stroke="#000" stroke-width="1.1" fill="none"/>
<path d="M126.0 106.00 L127.0 105.80 L128.0 105.64 L129.0 105.48 L130.0 105.32 L131.0 105.16 L132.0 105.00 L133.0 104.94 L134.0 104.89 L135.0 104.83 L136.0 104.78 L137.0 104.72 L138.0 104.67 L139.0 104.61 L140.0 104.56 L141.0 104.50 L142.0 104.44 L143.0 104.39 L144.0 104.33 L145.0 104.28 L146.0 104.22 L147.0 104.17 L148.0 104.11 L149.0 104.06 L150.0 104.00 L151.0 103.97 L152.0 103.94 L153.0 103.91 L154.0 103.88 L155.0 103.85 L156.0 103.82 L157.0 103.79 L158.0 103.76 L159.0 103.73 L160.0 103.69 L161.0 103.66 L162.0 103.63 L163.0 103.60 L164.0 103.57 L165.0 103.54 L166.0 103.51 L167.0 103.48 L168.0 103.45 L169.0 103.42 L170.0 103.39 L171.0 103.36 L172.0 103.33 L173.0 103.30 L174.0 103.27 L175.0 103.24 L176.0 103.21 L177.0 103.18 L178.0 103.15 L179.0 103.12 L180.0 103.08 L181.0 103.04 L182.0 103.01 L183.0 102.97 L184.0 102.93 L185.0 102.90 L186.0 102.86 L187.0 102.82 L188.0 102.79 L189.0 102.75 L190.0 102.71 L191.0 102.68 L192.0 102.64 L193.0 102.60 L194.0 102.57 L195.0 102.53 L196.0 102.49 L197.0 102.46 L198.0 102.42 L199.0 102.38 L200.0 102.35 L201.0 102.31 L202.0 102.27 L203.0 102.24 L204.0 102.20 L205.0 102.18 L206.0 102.16 L207.0 102.14 L208.0 102.12 L209.0 102.10 L210.0 102.08 L211.0 102.07 L212.0 102.05 L213.0 102.03 L214.0 102.01 L215.0 101.99 L216.0 101.97 L217.0 101.95 L218.0 101.93 L219.0 101.91 L220.0 101.89 L221.0 101.87 L222.0 101.85 L223.0 101.83 L224.0 101.82 L225.0 101.80 L226.0 101.78 L227.0 101.76 L228.0 101.74 L229.0 101.72 L230.0 101.70 L231.0 101.68 L232.0 101.66 L233.0 101.64 L234.0 101.62 L235.0 101.60 L236.0 101.58 L237.0 101.56 L238.0 101.54 L239.0 101.52 L240.0 101.50 L241.0 101.48 L242.0 101.46 L243.0 101.44 L244.0 101.42 L245.0 101.40 L246.0 101.38 L247.0 101.36 L248.0 101.34 L249.0 101.32 L250.0 101.30 L251.0 101.28 L252.0 101.26 L253.0 101.24 L254.0 101.22 L255.0 101.20 L256.0 101.18 L257.0 101.16 L258.0 101.14 L259.0 101.12 L260.0 101.10 L261.0 101.09 L262.0 101.07 L263.0 101.06 L264.0 101.05 L265.0 101.04 L266.0 101.03 L267.0 101.01 L268.0 101.00 L269.0 100.99 L270.0 100.97 L271.0 100.96 L272.0 100.95 L273.0 100.94 L274.0 100.93" stroke="#000" stroke-width="1.1" fill="none" stroke-dasharray="1.1 0.55"/>
<rect x="97.1" y="190.4" width="1.2" height="1.2" fill="#111"/>
<rect x="97.1" y="185.9" width="1.2" height="1.2" fill="#111"/>
<rect x="97.1" y="178.7" width="1.2" height="1.2" fill="#111"/>
<rect x="97.1" y="168.7" width="1.2" height="1.2" fill="#111"/>
<rect x="97.1" y="156.6" width="1.2" height="1.2" fill="#111"/>
<rect x="97.1" y="144.0" width="1.2" height="1.2" fill="#111"/>
<rect x="97.1" y="130.5" width="1.2" height="1.2" fill="#111"/>
<rect x="97.1" y="116.0" width="1.2" height="1.2" fill="#111"/>
<rect x="97.1" y="102.7" width="1.2" height="1.2" fill="#111"/>
<rect x="97.1" y="89.7" width="1.2" height="1.2" fill="#111"/>
<rect x="97.1" y="76.9" width="1.2" height="1.2" fill="#111"/>
<rect x="97.1" y="64.4" width="1.2" height="1.2" fill="#111"/>
<rect x="97.1" y="52.4" width="1.2" height="1.2" fill="#111"/>
<rect x="97.1" y="41.4" width="1.2" height="1.2" fill="#111"/>
<rect x="97.1" y="32.4" width="1.2" height="1.2" fill="#111"/>
<path d="M37.2 224.8 L37.4 217.5 L38.6 211.3 L41.2 207.7 L46.1 204.6 L52.1 202.6 L58.1 201.0 L61.7 200.4 L74.0 199.5 L86.3 198.7 L95.3 197.6 L97.0 197.1 L97.5 194.0" stroke="#000" stroke-width="2.0" fill="none" stroke-linejoin="round" stroke-linecap="round"/>
<path d="M275.2 58 L275.3 54.4 L276 53.7 L290 53.4 L306 52.8 L332.9 52.3" stroke="#000" stroke-width="2.0" fill="none" stroke-linejoin="round"/>
<path d="M37.06 6.6000000000000005 V225.3" stroke="#000" stroke-width="1.3" fill="none"/>
<path d="M36.46 225.3 H333.29999999999995" stroke="#000" stroke-width="1" fill="none"/>
<path d="M37.06 225.30 h2.8" stroke="#000" stroke-width="1"/>
<text transform="translate(35.31 227.95) scale(1.12 1)" text-anchor="end" class="tk">800</text>
<path d="M37.06 203.49 h2.8" stroke="#000" stroke-width="1"/>
<text transform="translate(35.31 206.14) scale(1.12 1)" text-anchor="end" class="tk">820</text>
<path d="M37.06 181.68 h2.8" stroke="#000" stroke-width="1"/>
<text transform="translate(35.31 184.33) scale(1.12 1)" text-anchor="end" class="tk">840</text>
<path d="M37.06 159.87 h2.8" stroke="#000" stroke-width="1"/>
<text transform="translate(35.31 162.52) scale(1.12 1)" text-anchor="end" class="tk">860</text>
<path d="M37.06 138.06 h2.8" stroke="#000" stroke-width="1"/>
<text transform="translate(35.31 140.71) scale(1.12 1)" text-anchor="end" class="tk">880</text>
<path d="M37.06 116.25 h2.8" stroke="#000" stroke-width="1"/>
<text transform="translate(35.31 118.90) scale(1.12 1)" text-anchor="end" class="tk">900</text>
<path d="M37.06 94.44 h2.8" stroke="#000" stroke-width="1"/>
<text transform="translate(35.31 97.09) scale(1.12 1)" text-anchor="end" class="tk">920</text>
<path d="M37.06 72.63 h2.8" stroke="#000" stroke-width="1"/>
<text transform="translate(35.31 75.28) scale(1.12 1)" text-anchor="end" class="tk">940</text>
<path d="M37.06 50.82 h2.8" stroke="#000" stroke-width="1"/>
<text transform="translate(35.31 53.47) scale(1.12 1)" text-anchor="end" class="tk">960</text>
<path d="M37.06 29.01 h2.8" stroke="#000" stroke-width="1"/>
<text transform="translate(35.31 31.66) scale(1.12 1)" text-anchor="end" class="tk">980</text>
<path d="M37.06 7.20 h2.8" stroke="#000" stroke-width="1"/>
<text transform="translate(35.31 9.85) scale(1.12 1)" text-anchor="end" class="tk">1000</text>
<path d="M37.06 225.3 v-2.6" stroke="#000" stroke-width="0.9"/>
<text transform="translate(36.96 234.10) scale(1.12 1)" text-anchor="middle" class="tk">0.6</text>
<path d="M66.64 225.3 v-2.6" stroke="#000" stroke-width="0.9"/>
<text transform="translate(66.54 234.10) scale(1.12 1)" text-anchor="middle" class="tk">0.7</text>
<path d="M96.23 225.3 v-2.6" stroke="#000" stroke-width="0.9"/>
<text transform="translate(96.13 234.10) scale(1.12 1)" text-anchor="middle" class="tk">0.8</text>
<path d="M125.81 225.3 v-2.6" stroke="#000" stroke-width="0.9"/>
<text transform="translate(125.71 234.10) scale(1.12 1)" text-anchor="middle" class="tk">0.9</text>
<path d="M155.40 225.3 v-2.6" stroke="#000" stroke-width="0.9"/>
<text transform="translate(155.30 234.10) scale(1.12 1)" text-anchor="middle" class="tk">1</text>
<path d="M184.98 225.3 v-2.6" stroke="#000" stroke-width="0.9"/>
<text transform="translate(184.88 234.10) scale(1.12 1)" text-anchor="middle" class="tk">1.1</text>
<path d="M214.56 225.3 v-2.6" stroke="#000" stroke-width="0.9"/>
<text transform="translate(214.46 234.10) scale(1.12 1)" text-anchor="middle" class="tk">1.2</text>
<path d="M244.15 225.3 v-2.6" stroke="#000" stroke-width="0.9"/>
<text transform="translate(244.05 234.10) scale(1.12 1)" text-anchor="middle" class="tk">1.3</text>
<path d="M273.73 225.3 v-2.6" stroke="#000" stroke-width="0.9"/>
<text transform="translate(273.63 234.10) scale(1.12 1)" text-anchor="middle" class="tk">1.4</text>
<path d="M303.32 225.3 v-2.6" stroke="#000" stroke-width="0.9"/>
<text transform="translate(303.22 234.10) scale(1.12 1)" text-anchor="middle" class="tk">1.5</text>
<path d="M332.90 225.3 v-2.6" stroke="#000" stroke-width="0.9"/>
<text transform="translate(332.80 234.10) scale(1.12 1)" text-anchor="middle" class="tk">1.6</text>
<text x="181.6" y="246.7" text-anchor="middle" class="ax" style="font-size:10.6px">Time (s)</text>
<text transform="translate(7.8 114.8) rotate(-90)" text-anchor="middle" class="ax" style="font-size:10.9px;stroke-width:0.08px">Indentation depth (nm)</text>
<text transform="translate(45.3 15.6) scale(1 1.04)" class="sp">specimen:</text>
<text transform="translate(45.4 32.3) scale(1 1.04)" class="sp">6061 Al</text>
<text x="66.5" y="196.1" text-anchor="middle" class="lb">B</text>
<text x="189.6" y="6.7" text-anchor="middle" class="lb" style="font-size:8.2px">C</text>
<text x="305" y="47.5" text-anchor="middle" class="lb">D</text>
<path d="M175.5 113.8 V211.4 H287" stroke="#bbb" stroke-width="0.8" fill="none"/>
<path d="M175.5 127.7h1.6M175.5 144.5h1.6M175.5 161.3h1.6M175.5 178.1h1.6M175.5 194.9h1.6M202.1 211.4v-1.6M227.2 211.4v-1.6M252 211.4v-1.6M277 211.4v-1.6" stroke="#c4c4c4" stroke-width="0.7" fill="none"/>
<path d="M193 131.9h1.2V146.0h-1.2zM195 131.9h1.2V146.0h-1.2zM197 131.9h1.2V146.0h-1.2zM199 131.9h1.2V146.0h-1.2zM201 131.9h1.2V146.0h-1.2zM203 131.9h1.2V146.0h-1.2zM205 131.9h1.2V146.0h-1.2zM207 131.9h1.2V146.0h-1.2zM209 131.9h1.2V146.0h-1.2zM211 131.9h1.2V146.0h-1.2zM213 131.9h1.2V146.0h-1.2zM215 131.9h1.2V146.0h-1.2zM217 131.9h1.2V146.0h-1.2zM219 131.9h1.2V146.0h-1.2zM221 131.9h1.2V146.0h-1.2zM223 131.9h1.2V146.0h-1.2zM225 131.9h1.2V146.0h-1.2zM227 131.9h1.2V146.0h-1.2zM229 131.9h1.2V146.0h-1.2zM231 131.9h1.2V146.0h-1.2zM233 131.9h1.2V146.0h-1.2zM235 131.9h1.2V146.0h-1.2zM237 131.9h1.2V146.0h-1.2zM239 131.9h1.2V146.0h-1.2zM241 131.9h1.2V146.0h-1.2zM243 131.9h1.2V146.0h-1.2zM245 131.9h1.2V146.0h-1.2zM247 131.9h1.2V146.0h-1.2zM249 131.9h1.2V146.0h-1.2zM251 131.9h1.2V146.0h-1.2zM253 131.9h1.2V146.0h-1.2zM255 131.9h1.2V146.0h-1.2zM257 131.9h1.2V146.0h-1.2zM259 131.9h1.2V146.0h-1.2zM261 131.9h1.2V146.0h-1.2zM263 131.9h1.2V146.0h-1.2zM265 131.9h1.2V146.0h-1.2zM267 131.9h1.2V146.0h-1.2zM194 172.0h1.2V187.9h-1.2zM196 172.0h1.2V187.9h-1.2zM198 172.0h1.2V187.9h-1.2zM200 172.0h1.2V187.9h-1.2zM202 172.0h1.2V187.9h-1.2zM204 172.0h1.2V187.9h-1.2zM206 172.0h1.2V187.9h-1.2zM208 172.0h1.2V187.9h-1.2zM210 172.0h1.2V187.9h-1.2zM212 172.0h1.2V187.9h-1.2zM214 172.0h1.2V187.9h-1.2zM216 172.0h1.2V187.9h-1.2zM218 172.0h1.2V187.9h-1.2zM220 172.0h1.2V187.9h-1.2zM222 172.0h1.2V187.9h-1.2zM224 172.0h1.2V187.9h-1.2zM226 172.0h1.2V187.9h-1.2zM228 172.0h1.2V187.9h-1.2zM230 172.0h1.2V187.9h-1.2zM232 172.0h1.2V187.9h-1.2zM234 172.0h1.2V187.9h-1.2zM236 172.0h1.2V187.9h-1.2zM238 172.0h1.2V187.9h-1.2zM240 172.0h1.2V187.9h-1.2zM242 172.0h1.2V187.9h-1.2zM244 172.0h1.2V187.9h-1.2zM246 172.0h1.2V187.9h-1.2zM248 172.0h1.2V187.9h-1.2zM250 172.0h1.2V187.9h-1.2zM252 172.0h1.2V187.9h-1.2zM254 172.0h1.2V187.9h-1.2zM256 172.0h1.2V187.9h-1.2zM258 172.0h1.2V187.9h-1.2zM260 172.0h1.2V187.9h-1.2zM262 172.0h1.2V187.9h-1.2zM264 172.0h1.2V187.9h-1.2zM266 172.0h1.2V187.9h-1.2zM268 172.0h1.2V187.9h-1.2z" fill="#000"/>
<path d="M192.60 172.0L193.60 146.0L194.60 172.0M194.60 172.0L195.60 146.0L196.60 172.0M196.60 172.0L197.60 146.0L198.60 172.0M198.60 172.0L199.60 146.0L200.60 172.0M200.60 172.0L201.60 146.0L202.60 172.0M202.60 172.0L203.60 146.0L204.60 172.0M204.60 172.0L205.60 146.0L206.60 172.0M206.60 172.0L207.60 146.0L208.60 172.0M208.60 172.0L209.60 146.0L210.60 172.0M210.60 172.0L211.60 146.0L212.60 172.0M212.60 172.0L213.60 146.0L214.60 172.0M214.60 172.0L215.60 146.0L216.60 172.0M216.60 172.0L217.60 146.0L218.60 172.0M218.60 172.0L219.60 146.0L220.60 172.0M220.60 172.0L221.60 146.0L222.60 172.0M222.60 172.0L223.60 146.0L224.60 172.0M224.60 172.0L225.60 146.0L226.60 172.0M226.60 172.0L227.60 146.0L228.60 172.0M228.60 172.0L229.60 146.0L230.60 172.0M230.60 172.0L231.60 146.0L232.60 172.0M232.60 172.0L233.60 146.0L234.60 172.0M234.60 172.0L235.60 146.0L236.60 172.0M236.60 172.0L237.60 146.0L238.60 172.0M238.60 172.0L239.60 146.0L240.60 172.0M240.60 172.0L241.60 146.0L242.60 172.0M242.60 172.0L243.60 146.0L244.60 172.0M244.60 172.0L245.60 146.0L246.60 172.0M246.60 172.0L247.60 146.0L248.60 172.0M248.60 172.0L249.60 146.0L250.60 172.0M250.60 172.0L251.60 146.0L252.60 172.0M252.60 172.0L253.60 146.0L254.60 172.0M254.60 172.0L255.60 146.0L256.60 172.0M256.60 172.0L257.60 146.0L258.60 172.0M258.60 172.0L259.60 146.0L260.60 172.0M260.60 172.0L261.60 146.0L262.60 172.0M262.60 172.0L263.60 146.0L264.60 172.0M264.60 172.0L265.60 146.0L266.60 172.0M266.60 172.0L267.60 146.0L268.60 172.0" stroke="#000" stroke-width="0.75" fill="none"/>
<path d="M192.7 134.57L195.2 134.60L197.7 134.56L200.2 134.49L202.7 134.42L205.2 134.40L207.7 134.44L210.2 134.52L212.7 134.58L215.2 134.60L217.7 134.55L220.2 134.47L222.7 134.41L225.2 134.40L227.7 134.46L230.2 134.53L232.7 134.59L235.2 134.59L237.7 134.54L240.2 134.46L242.7 134.41L245.2 134.41L247.7 134.47L250.2 134.55L252.7 134.60L255.2 134.58L257.7 134.52L260.2 134.44L262.7 134.40L265.2 134.42L267.7 134.49" stroke="#fff" stroke-width="0.51" fill="none" opacity="0.65"/>
<path d="M192.7 137.22L195.2 137.09L197.7 136.99L200.2 137.00L202.7 137.10L205.2 137.24L207.7 137.33L210.2 137.31L212.7 137.20L215.2 137.06L217.7 136.98L220.2 137.01L222.7 137.13L225.2 137.27L227.7 137.33L230.2 137.29L232.7 137.17L235.2 137.04L237.7 136.98L240.2 137.03L242.7 137.16L245.2 137.29L247.7 137.33L250.2 137.27L252.7 137.14L255.2 137.02L257.7 136.98L260.2 137.06L262.7 137.19L265.2 137.30L267.7 137.33" stroke="#fff" stroke-width="0.54" fill="none" opacity="0.78"/>
<path d="M192.7 139.96L195.2 139.87L197.7 139.68L200.2 139.51L202.7 139.46L205.2 139.57L207.7 139.76L210.2 139.92L212.7 139.95L215.2 139.83L217.7 139.64L220.2 139.49L222.7 139.47L225.2 139.60L227.7 139.80L230.2 139.94L232.7 139.94L235.2 139.79L237.7 139.60L240.2 139.47L242.7 139.49L245.2 139.64L247.7 139.84L250.2 139.95L252.7 139.92L255.2 139.75L257.7 139.56L260.2 139.46L262.7 139.51L265.2 139.69L267.7 139.87" stroke="#fff" stroke-width="0.56" fill="none" opacity="0.88"/>
<path d="M192.7 142.17L195.2 141.94L197.7 141.84L200.2 141.95L202.7 142.18L205.2 142.41L207.7 142.48L210.2 142.36L212.7 142.12L215.2 141.90L217.7 141.85L220.2 141.99L222.7 142.24L225.2 142.44L227.7 142.47L230.2 142.31L232.7 142.06L235.2 141.88L237.7 141.86L240.2 142.04L242.7 142.29L245.2 142.46L247.7 142.45L250.2 142.26L252.7 142.01L255.2 141.86L257.7 141.89L260.2 142.09L262.7 142.33L265.2 142.48L267.7 142.42" stroke="#fff" stroke-width="0.59" fill="none" opacity="0.88"/>
<path d="M192.7 144.48L195.2 144.22L197.7 144.15L200.2 144.31L202.7 144.60L205.2 144.85L207.7 144.90L210.2 144.72L212.7 144.42L215.2 144.18L217.7 144.16L220.2 144.36L222.7 144.67L225.2 144.88L227.7 144.88L230.2 144.66L232.7 144.36L235.2 144.16L237.7 144.19L240.2 144.43L242.7 144.73L245.2 144.90L247.7 144.85L250.2 144.60L252.7 144.30L255.2 144.14L257.7 144.22L260.2 144.49L262.7 144.78L265.2 144.91L267.7 144.81" stroke="#fff" stroke-width="0.61" fill="none" opacity="0.88"/>
<path d="M192.7 146.69L195.2 147.04L197.7 147.25L200.2 147.18L202.7 146.89L205.2 146.54L207.7 146.36L210.2 146.46L212.7 146.77L215.2 147.11L217.7 147.26L220.2 147.14L222.7 146.81L225.2 146.49L227.7 146.36L230.2 146.51L232.7 146.84L235.2 147.16L237.7 147.26L240.2 147.08L242.7 146.74L245.2 146.44L247.7 146.37L250.2 146.57L252.7 146.92L255.2 147.20L257.7 147.24L260.2 147.02L262.7 146.66L265.2 146.40L267.7 146.39" stroke="#fff" stroke-width="0.62" fill="none" opacity="0.88"/>
<path d="M192.7 148.73L195.2 149.13L197.7 149.45L200.2 149.51L202.7 149.26L205.2 148.86L207.7 148.55L210.2 148.53L212.7 148.80L215.2 149.21L217.7 149.49L220.2 149.48L222.7 149.18L225.2 148.78L227.7 148.52L230.2 148.57L232.7 148.89L235.2 149.29L237.7 149.52L240.2 149.44L242.7 149.10L245.2 148.71L247.7 148.50L250.2 148.61L252.7 148.97L255.2 149.36L257.7 149.53L260.2 149.39L262.7 149.01L265.2 148.64L267.7 148.50" stroke="#fff" stroke-width="0.62" fill="none" opacity="0.88"/>
<path d="M192.7 150.58L195.2 150.70L197.7 151.10L200.2 151.53L202.7 151.73L205.2 151.56L207.7 151.15L210.2 150.73L212.7 150.57L215.2 150.77L217.7 151.20L220.2 151.60L222.7 151.72L225.2 151.49L227.7 151.05L230.2 150.67L232.7 150.59L235.2 150.85L237.7 151.30L240.2 151.65L242.7 151.70L245.2 151.41L247.7 150.96L250.2 150.63L252.7 150.62L255.2 150.93L257.7 151.39L260.2 151.69L262.7 151.66L265.2 151.32L267.7 150.87" stroke="#fff" stroke-width="0.62" fill="none" opacity="0.88"/>
<path d="M192.7 153.74L195.2 153.85L197.7 153.57L200.2 153.07L202.7 152.67L205.2 152.61L207.7 152.93L210.2 153.42L212.7 153.80L215.2 153.82L217.7 153.47L220.2 152.97L222.7 152.63L225.2 152.65L227.7 153.02L230.2 153.52L232.7 153.83L235.2 153.77L237.7 153.37L240.2 152.88L242.7 152.60L245.2 152.70L247.7 153.13L250.2 153.61L252.7 153.85L255.2 153.71L257.7 153.26L260.2 152.79L262.7 152.59L265.2 152.77L267.7 153.23" stroke="#fff" stroke-width="0.62" fill="none" opacity="0.88"/>
<path d="M192.7 155.74L195.2 155.93L197.7 155.70L200.2 155.18L202.7 154.70L205.2 154.55L207.7 154.82L210.2 155.35L212.7 155.81L215.2 155.92L217.7 155.61L220.2 155.07L222.7 154.64L225.2 154.57L227.7 154.92L230.2 155.46L232.7 155.87L235.2 155.88L237.7 155.50L240.2 154.96L242.7 154.59L245.2 154.62L247.7 155.03L250.2 155.57L252.7 155.91L255.2 155.83L257.7 155.39L260.2 154.86L262.7 154.56L265.2 154.68L267.7 155.14" stroke="#fff" stroke-width="0.62" fill="none" opacity="0.88"/>
<path d="M192.7 156.72L195.2 157.28L197.7 157.80L200.2 157.94L202.7 157.64L205.2 157.06L207.7 156.58L210.2 156.48L212.7 156.82L215.2 157.41L217.7 157.86L220.2 157.92L222.7 157.53L225.2 156.94L227.7 156.52L230.2 156.51L232.7 156.94L235.2 157.52L237.7 157.91L240.2 157.87L242.7 157.41L245.2 156.83L247.7 156.48L250.2 156.57L252.7 157.06L255.2 157.63L257.7 157.94L260.2 157.80L262.7 157.29L265.2 156.72L267.7 156.46" stroke="#fff" stroke-width="0.62" fill="none" opacity="0.88"/>
<path d="M192.7 159.73L195.2 159.17L197.7 158.58L200.2 158.33L202.7 158.57L205.2 159.15L207.7 159.72L210.2 159.92L212.7 159.64L215.2 159.04L217.7 158.49L220.2 158.34L222.7 158.68L225.2 159.29L227.7 159.80L230.2 159.90L232.7 159.53L235.2 158.91L237.7 158.42L240.2 158.38L242.7 158.79L245.2 159.42L247.7 159.86L250.2 159.86L252.7 159.41L255.2 158.78L257.7 158.37L260.2 158.43L262.7 158.92L265.2 159.54L267.7 159.91" stroke="#fff" stroke-width="0.62" fill="none" opacity="0.88"/>
<path d="M192.7 160.29L195.2 160.45L197.7 160.97L200.2 161.52L202.7 161.77L205.2 161.57L207.7 161.03L210.2 160.50L212.7 160.29L215.2 160.54L217.7 161.09L220.2 161.61L222.7 161.77L225.2 161.47L227.7 160.91L230.2 160.42L232.7 160.30L235.2 160.64L237.7 161.21L240.2 161.68L242.7 161.74L245.2 161.37L247.7 160.79L250.2 160.36L252.7 160.34L255.2 160.75L257.7 161.33L260.2 161.73L262.7 161.70L265.2 161.25L267.7 160.67" stroke="#fff" stroke-width="0.62" fill="none" opacity="0.88"/>
<path d="M192.7 163.46L195.2 162.97L197.7 162.47L200.2 162.27L202.7 162.50L205.2 163.01L207.7 163.49L210.2 163.64L212.7 163.38L215.2 162.85L217.7 162.40L220.2 162.29L222.7 162.59L225.2 163.12L227.7 163.55L230.2 163.62L232.7 163.28L235.2 162.74L237.7 162.34L240.2 162.32L242.7 162.69L245.2 163.23L247.7 163.60L250.2 163.58L252.7 163.17L255.2 162.64L257.7 162.30L260.2 162.37L262.7 162.80L265.2 163.33L267.7 163.63" stroke="#fff" stroke-width="0.62" fill="none" opacity="0.88"/>
<path d="M192.7 164.80L195.2 164.40L197.7 164.32L200.2 164.62L202.7 165.11L205.2 165.49L207.7 165.53L210.2 165.20L212.7 164.70L215.2 164.35L217.7 164.35L220.2 164.71L222.7 165.21L225.2 165.53L227.7 165.49L230.2 165.10L232.7 164.61L235.2 164.32L237.7 164.40L240.2 164.82L242.7 165.30L245.2 165.55L247.7 165.43L250.2 164.99L252.7 164.52L255.2 164.30L257.7 164.47L260.2 164.92L262.7 165.38L265.2 165.56L267.7 165.36" stroke="#fff" stroke-width="0.62" fill="none" opacity="0.88"/>
<path d="M192.7 167.11L195.2 167.46L197.7 167.49L200.2 167.20L202.7 166.75L205.2 166.42L207.7 166.42L210.2 166.75L212.7 167.20L215.2 167.49L217.7 167.46L220.2 167.11L222.7 166.66L225.2 166.39L227.7 166.47L230.2 166.84L232.7 167.28L235.2 167.52L237.7 167.41L240.2 167.01L242.7 166.58L245.2 166.38L247.7 166.53L250.2 166.94L252.7 167.35L255.2 167.52L257.7 167.34L260.2 166.92L262.7 166.51L265.2 166.38L267.7 166.60" stroke="#fff" stroke-width="0.62" fill="none" opacity="0.88"/>
<path d="M192.7 168.94L195.2 168.60L197.7 168.52L200.2 168.76L202.7 169.16L205.2 169.47L207.7 169.52L210.2 169.26L212.7 168.85L215.2 168.56L217.7 168.55L220.2 168.84L222.7 169.24L225.2 169.51L227.7 169.48L230.2 169.17L232.7 168.77L235.2 168.53L237.7 168.59L240.2 168.92L242.7 169.31L245.2 169.53L247.7 169.44L250.2 169.09L252.7 168.70L255.2 168.51L257.7 168.64L260.2 169.00L262.7 169.38L265.2 169.54L267.7 169.38" stroke="#fff" stroke-width="0.62" fill="none" opacity="0.88"/>
<path d="M192.7 170.71L195.2 170.87L197.7 171.21L200.2 171.52L202.7 171.61L205.2 171.42L207.7 171.07L210.2 170.78L212.7 170.72L215.2 170.93L217.7 171.29L220.2 171.56L222.7 171.59L225.2 171.36L227.7 171.00L230.2 170.75L232.7 170.75L235.2 171.00L237.7 171.36L240.2 171.59L242.7 171.56L245.2 171.29L247.7 170.93L250.2 170.72L252.7 170.78L255.2 171.08L257.7 171.42L260.2 171.61L262.7 171.52L265.2 171.21L267.7 170.87" stroke="#fff" stroke-width="0.62" fill="none" opacity="0.88"/>
<path d="M192.7 173.56L195.2 173.26L197.7 173.02L200.2 173.00L202.7 173.20L205.2 173.51L207.7 173.73L210.2 173.72L212.7 173.50L215.2 173.20L217.7 173.00L220.2 173.02L222.7 173.26L225.2 173.56L227.7 173.75L230.2 173.69L232.7 173.44L235.2 173.14L237.7 172.98L240.2 173.06L242.7 173.33L245.2 173.62L247.7 173.76L250.2 173.65L252.7 173.38L255.2 173.09L257.7 172.98L260.2 173.10L262.7 173.39L265.2 173.66L267.7 173.75" stroke="#fff" stroke-width="0.62" fill="none" opacity="0.88"/>
<path d="M192.7 175.40L195.2 175.32L197.7 175.44L200.2 175.68L202.7 175.90L205.2 175.96L207.7 175.83L210.2 175.58L212.7 175.37L215.2 175.33L217.7 175.48L220.2 175.74L222.7 175.93L225.2 175.95L227.7 175.78L230.2 175.53L232.7 175.34L235.2 175.35L237.7 175.53L240.2 175.79L242.7 175.95L245.2 175.93L247.7 175.73L250.2 175.48L252.7 175.33L255.2 175.37L257.7 175.59L260.2 175.83L262.7 175.97L265.2 175.90L267.7 175.68" stroke="#fff" stroke-width="0.59" fill="none" opacity="0.88"/>
<path d="M192.7 177.90L195.2 177.76L197.7 177.77L200.2 177.92L202.7 178.12L205.2 178.25L207.7 178.22L210.2 178.06L212.7 177.86L215.2 177.75L217.7 177.79L220.2 177.96L222.7 178.16L225.2 178.26L227.7 178.20L230.2 178.02L232.7 177.83L235.2 177.75L237.7 177.82L240.2 178.01L242.7 178.19L245.2 178.26L247.7 178.17L250.2 177.98L252.7 177.80L255.2 177.75L257.7 177.85L260.2 178.05L262.7 178.22L265.2 178.25L267.7 178.13" stroke="#fff" stroke-width="0.57" fill="none" opacity="0.88"/>
<path d="M192.7 180.40L195.2 180.54L197.7 180.63L200.2 180.60L202.7 180.48L205.2 180.34L207.7 180.26L210.2 180.30L212.7 180.43L215.2 180.57L217.7 180.63L220.2 180.58L222.7 180.45L225.2 180.31L227.7 180.26L230.2 180.32L232.7 180.46L235.2 180.59L237.7 180.63L240.2 180.56L242.7 180.42L245.2 180.29L247.7 180.26L250.2 180.35L252.7 180.49L255.2 180.61L257.7 180.63L260.2 180.53L262.7 180.39L265.2 180.28L267.7 180.27" stroke="#fff" stroke-width="0.54" fill="none" opacity="0.79"/>
<path d="M192.7 182.89L195.2 182.87L197.7 182.92L200.2 183.01L202.7 183.08L205.2 183.09L207.7 183.04L210.2 182.95L212.7 182.88L215.2 182.87L217.7 182.94L220.2 183.03L222.7 183.09L225.2 183.09L227.7 183.02L230.2 182.93L232.7 182.87L235.2 182.88L237.7 182.96L240.2 183.04L242.7 183.10L245.2 183.08L247.7 183.00L250.2 182.91L252.7 182.87L255.2 182.89L257.7 182.97L260.2 183.06L262.7 183.10L265.2 183.06L267.7 182.98" stroke="#fff" stroke-width="0.51" fill="none" opacity="0.68"/>
<path d="M192.7 185.62L195.2 185.59L197.7 185.58L200.2 185.59L202.7 185.62L205.2 185.65L207.7 185.66L210.2 185.65L212.7 185.62L215.2 185.59L217.7 185.58L220.2 185.59L222.7 185.62L225.2 185.65L227.7 185.66L230.2 185.64L232.7 185.61L235.2 185.58L237.7 185.58L240.2 185.60L242.7 185.63L245.2 185.65L247.7 185.66L250.2 185.63L252.7 185.60L255.2 185.58L257.7 185.58L260.2 185.61L262.7 185.64L265.2 185.66L267.7 185.65" stroke="#fff" stroke-width="0.48" fill="none" opacity="0.55"/>
<path d="M174.9 211.4 H181.9 L183.9 194 L186.8 174 L187.1 167 L187.6 159.5 H193.2" stroke="#000" stroke-width="1.3" fill="none" stroke-linejoin="miter"/>
<path d="M268.6 159.8 H273.4 L286.2 211.4 H292.9" stroke="#000" stroke-width="1.3" fill="none"/>
<text x="181.5" y="187.5" text-anchor="middle" class="lb">A</text>
<text x="190" y="154.1" text-anchor="middle" class="lb">B</text>
<text x="230.9" y="129.6" text-anchor="middle" class="lb" style="font-size:8.2px">C</text>
<text x="272.1" y="154.4" text-anchor="middle" class="lb">D</text>
<text x="285" y="187.5" text-anchor="middle" class="lb">E</text>
<text x="232" y="220.5" text-anchor="middle" class="lb" style="font-size:9px;stroke-width:0.35px">Time</text>
<text transform="translate(171.8 164.1) rotate(-90) scale(1 0.9)" text-anchor="middle" class="lb" style="font-size:9.3px">Load</text>
<path d="M268.1 131.4 l7.6 -2.4 v4.8z" fill="#000"/><path d="M275 131.4 H293" stroke="#000" stroke-width="1.15"/>
<path d="M276.6 160.1 l7 -2.5 v5z" fill="#000"/><path d="M283 159.9 H301.5" stroke="#000" stroke-width="1.15"/>
<path d="M251.4 131.1 L254 123.8 L258 127.1z" fill="#000"/><path d="M255.5 126 L268.15 110.5 H301.1" stroke="#000" stroke-width="1.25" fill="none"/>
<text x="308.2" y="113.7" class="an">f</text><text x="313" y="113.9" class="an" style="word-spacing:1px">=50 Hz</text>
<text x="288.4" y="130.3" class="an">P</text><text x="294.7" y="131.6" class="sub">max</text><text x="308.8" y="130.1" class="an">=30 mN</text>
<text x="286.9" y="157.7" class="an">P</text><text x="292.9" y="158.6" class="sub">mean</text><text x="310.4" y="157.9" class="an">=20 mN</text>
</svg>
</body></html>
